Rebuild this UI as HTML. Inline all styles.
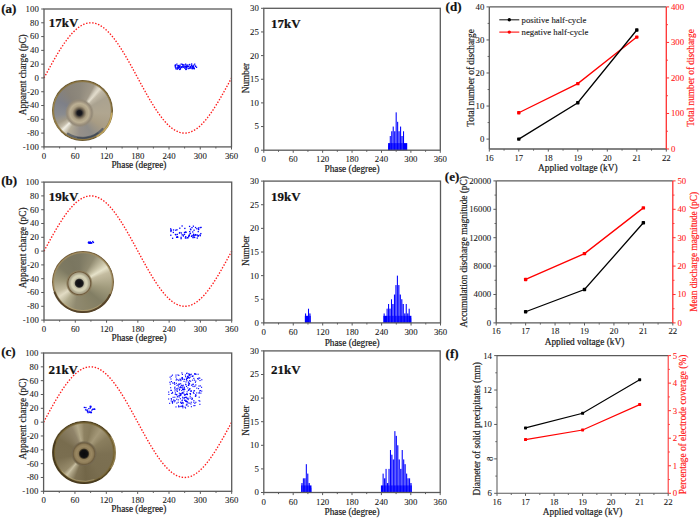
<!DOCTYPE html>
<html><head><meta charset="utf-8"><style>
html,body{margin:0;padding:0;background:#fff;}
body{width:700px;height:518px;overflow:hidden;}
svg{display:block;font-family:"Liberation Serif",serif;}
.disk{position:absolute;border-radius:50%;}
.ov{position:absolute;left:0;top:0;pointer-events:none;}
</style></head><body>
<svg width="700" height="518" viewBox="0 0 700 518">
<rect width="700" height="518" fill="#fff"/>
<defs>
<radialGradient id="da" cx="0.45" cy="0.52" r="0.55">
<stop offset="0" stop-color="#a89c80"/><stop offset="0.5" stop-color="#9f9886"/><stop offset="0.9" stop-color="#8c8a84"/><stop offset="1" stop-color="#a08a5a"/>
</radialGradient>
<radialGradient id="db" cx="0.45" cy="0.5" r="0.55">
<stop offset="0" stop-color="#b0a888"/><stop offset="0.6" stop-color="#a49c7c"/><stop offset="0.92" stop-color="#8e8666"/><stop offset="1" stop-color="#8a7650"/>
</radialGradient>
<radialGradient id="dc" cx="0.5" cy="0.5" r="0.55">
<stop offset="0" stop-color="#938664"/><stop offset="0.6" stop-color="#8b7f5c"/><stop offset="0.93" stop-color="#7a6e4c"/><stop offset="1" stop-color="#6a5a34"/>
</radialGradient>
</defs>
<polyline points="44.00,77.95 44.52,76.99 45.04,76.02 45.56,75.06 46.08,74.10 46.60,73.14 47.12,72.18 47.65,71.23 48.17,70.27 48.69,69.32 49.21,68.37 49.73,67.42 50.25,66.48 50.77,65.54 51.29,64.61 51.81,63.67 52.33,62.75 52.85,61.82 53.38,60.90 53.90,59.99 54.42,59.08 54.94,58.18 55.46,57.29 55.98,56.40 56.50,55.51 57.02,54.64 57.54,53.77 58.06,52.91 58.58,52.05 59.10,51.21 59.62,50.37 60.15,49.54 60.67,48.72 61.19,47.91 61.71,47.10 62.23,46.31 62.75,45.53 63.27,44.75 63.79,43.99 64.31,43.24 64.83,42.49 65.35,41.76 65.88,41.04 66.40,40.33 66.92,39.63 67.44,38.95 67.96,38.27 68.48,37.61 69.00,36.96 69.52,36.32 70.04,35.69 70.56,35.08 71.08,34.48 71.60,33.90 72.12,33.32 72.65,32.77 73.17,32.22 73.69,31.69 74.21,31.17 74.73,30.67 75.25,30.18 75.77,29.71 76.29,29.25 76.81,28.80 77.33,28.37 77.85,27.96 78.38,27.56 78.90,27.17 79.42,26.81 79.94,26.45 80.46,26.12 80.98,25.80 81.50,25.49 82.02,25.20 82.54,24.93 83.06,24.67 83.58,24.43 84.10,24.20 84.62,24.00 85.15,23.80 85.67,23.63 86.19,23.47 86.71,23.33 87.23,23.20 87.75,23.09 88.27,23.00 88.79,22.92 89.31,22.87 89.83,22.82 90.35,22.80 90.88,22.79 91.40,22.80 91.92,22.82 92.44,22.87 92.96,22.92 93.48,23.00 94.00,23.09 94.52,23.20 95.04,23.33 95.56,23.47 96.08,23.63 96.60,23.80 97.12,24.00 97.65,24.20 98.17,24.43 98.69,24.67 99.21,24.93 99.73,25.20 100.25,25.49 100.77,25.80 101.29,26.12 101.81,26.45 102.33,26.81 102.85,27.17 103.38,27.56 103.90,27.96 104.42,28.37 104.94,28.80 105.46,29.25 105.98,29.71 106.50,30.18 107.02,30.67 107.54,31.17 108.06,31.69 108.58,32.22 109.10,32.77 109.62,33.32 110.15,33.90 110.67,34.48 111.19,35.08 111.71,35.69 112.23,36.32 112.75,36.96 113.27,37.61 113.79,38.27 114.31,38.95 114.83,39.63 115.35,40.33 115.88,41.04 116.40,41.76 116.92,42.49 117.44,43.24 117.96,43.99 118.48,44.75 119.00,45.53 119.52,46.31 120.04,47.10 120.56,47.91 121.08,48.72 121.60,49.54 122.12,50.37 122.65,51.21 123.17,52.05 123.69,52.91 124.21,53.77 124.73,54.64 125.25,55.51 125.77,56.40 126.29,57.29 126.81,58.18 127.33,59.08 127.85,59.99 128.38,60.90 128.90,61.82 129.42,62.75 129.94,63.67 130.46,64.61 130.98,65.54 131.50,66.48 132.02,67.42 132.54,68.37 133.06,69.32 133.58,70.27 134.10,71.23 134.62,72.18 135.15,73.14 135.67,74.10 136.19,75.06 136.71,76.02 137.23,76.99 137.75,77.95 138.27,78.91 138.79,79.88 139.31,80.84 139.83,81.80 140.35,82.76 140.88,83.72 141.40,84.67 141.92,85.63 142.44,86.58 142.96,87.53 143.48,88.48 144.00,89.42 144.52,90.36 145.04,91.29 145.56,92.23 146.08,93.15 146.60,94.08 147.12,95.00 147.65,95.91 148.17,96.82 148.69,97.72 149.21,98.61 149.73,99.50 150.25,100.39 150.77,101.26 151.29,102.13 151.81,102.99 152.33,103.85 152.85,104.69 153.38,105.53 153.90,106.36 154.42,107.18 154.94,107.99 155.46,108.80 155.98,109.59 156.50,110.37 157.02,111.15 157.54,111.91 158.06,112.66 158.58,113.41 159.10,114.14 159.62,114.86 160.15,115.57 160.67,116.27 161.19,116.95 161.71,117.63 162.23,118.29 162.75,118.94 163.27,119.58 163.79,120.21 164.31,120.82 164.83,121.42 165.35,122.00 165.88,122.58 166.40,123.13 166.92,123.68 167.44,124.21 167.96,124.73 168.48,125.23 169.00,125.72 169.52,126.19 170.04,126.65 170.56,127.10 171.08,127.53 171.60,127.94 172.12,128.34 172.65,128.73 173.17,129.09 173.69,129.45 174.21,129.78 174.73,130.10 175.25,130.41 175.77,130.70 176.29,130.97 176.81,131.23 177.33,131.47 177.85,131.70 178.38,131.90 178.90,132.10 179.42,132.27 179.94,132.43 180.46,132.57 180.98,132.70 181.50,132.81 182.02,132.90 182.54,132.98 183.06,133.03 183.58,133.08 184.10,133.10 184.62,133.11 185.15,133.10 185.67,133.08 186.19,133.03 186.71,132.98 187.23,132.90 187.75,132.81 188.27,132.70 188.79,132.57 189.31,132.43 189.83,132.27 190.35,132.10 190.88,131.90 191.40,131.70 191.92,131.47 192.44,131.23 192.96,130.97 193.48,130.70 194.00,130.41 194.52,130.10 195.04,129.78 195.56,129.45 196.08,129.09 196.60,128.73 197.12,128.34 197.65,127.94 198.17,127.53 198.69,127.10 199.21,126.65 199.73,126.19 200.25,125.72 200.77,125.23 201.29,124.73 201.81,124.21 202.33,123.68 202.85,123.13 203.38,122.58 203.90,122.00 204.42,121.42 204.94,120.82 205.46,120.21 205.98,119.58 206.50,118.94 207.02,118.29 207.54,117.63 208.06,116.95 208.58,116.27 209.10,115.57 209.62,114.86 210.15,114.14 210.67,113.41 211.19,112.66 211.71,111.91 212.23,111.15 212.75,110.37 213.27,109.59 213.79,108.80 214.31,107.99 214.83,107.18 215.35,106.36 215.88,105.53 216.40,104.69 216.92,103.85 217.44,102.99 217.96,102.13 218.48,101.26 219.00,100.39 219.52,99.50 220.04,98.61 220.56,97.72 221.08,96.82 221.60,95.91 222.12,95.00 222.65,94.08 223.17,93.15 223.69,92.23 224.21,91.29 224.73,90.36 225.25,89.42 225.77,88.48 226.29,87.53 226.81,86.58 227.33,85.63 227.85,84.67 228.38,83.72 228.90,82.76 229.42,81.80 229.94,80.84 230.46,79.88 230.98,78.91 231.50,77.95" fill="none" stroke="#ff1a1a" stroke-width="1.35" stroke-dasharray="1.45 1.6"/>
<rect x="177.12" y="68.10" width="1.3" height="1.3" fill="#0000ff"/>
<rect x="191.03" y="64.78" width="1.3" height="1.3" fill="#0000ff"/>
<rect x="185.10" y="65.87" width="1.3" height="1.3" fill="#0000ff"/>
<rect x="188.55" y="67.77" width="1.3" height="1.3" fill="#0000ff"/>
<rect x="176.22" y="63.51" width="1.3" height="1.3" fill="#0000ff"/>
<rect x="192.62" y="65.77" width="1.3" height="1.3" fill="#0000ff"/>
<rect x="191.00" y="63.36" width="1.3" height="1.3" fill="#0000ff"/>
<rect x="183.99" y="67.39" width="1.3" height="1.3" fill="#0000ff"/>
<rect x="179.21" y="68.64" width="1.3" height="1.3" fill="#0000ff"/>
<rect x="194.07" y="63.52" width="1.3" height="1.3" fill="#0000ff"/>
<rect x="174.71" y="66.38" width="1.3" height="1.3" fill="#0000ff"/>
<rect x="194.91" y="65.48" width="1.3" height="1.3" fill="#0000ff"/>
<rect x="178.94" y="65.71" width="1.3" height="1.3" fill="#0000ff"/>
<rect x="174.79" y="64.59" width="1.3" height="1.3" fill="#0000ff"/>
<rect x="183.83" y="66.13" width="1.3" height="1.3" fill="#0000ff"/>
<rect x="179.30" y="64.64" width="1.3" height="1.3" fill="#0000ff"/>
<rect x="178.99" y="65.92" width="1.3" height="1.3" fill="#0000ff"/>
<rect x="180.55" y="63.47" width="1.3" height="1.3" fill="#0000ff"/>
<rect x="192.66" y="66.47" width="1.3" height="1.3" fill="#0000ff"/>
<rect x="188.34" y="64.39" width="1.3" height="1.3" fill="#0000ff"/>
<rect x="176.82" y="65.21" width="1.3" height="1.3" fill="#0000ff"/>
<rect x="190.09" y="67.33" width="1.3" height="1.3" fill="#0000ff"/>
<rect x="194.85" y="65.71" width="1.3" height="1.3" fill="#0000ff"/>
<rect x="192.49" y="67.10" width="1.3" height="1.3" fill="#0000ff"/>
<rect x="180.85" y="66.64" width="1.3" height="1.3" fill="#0000ff"/>
<rect x="193.65" y="68.09" width="1.3" height="1.3" fill="#0000ff"/>
<rect x="185.32" y="66.65" width="1.3" height="1.3" fill="#0000ff"/>
<rect x="174.91" y="64.71" width="1.3" height="1.3" fill="#0000ff"/>
<rect x="191.77" y="65.67" width="1.3" height="1.3" fill="#0000ff"/>
<rect x="177.97" y="66.42" width="1.3" height="1.3" fill="#0000ff"/>
<rect x="189.69" y="67.13" width="1.3" height="1.3" fill="#0000ff"/>
<rect x="182.43" y="65.81" width="1.3" height="1.3" fill="#0000ff"/>
<rect x="185.39" y="67.71" width="1.3" height="1.3" fill="#0000ff"/>
<rect x="185.66" y="65.55" width="1.3" height="1.3" fill="#0000ff"/>
<rect x="184.97" y="63.52" width="1.3" height="1.3" fill="#0000ff"/>
<rect x="175.11" y="67.29" width="1.3" height="1.3" fill="#0000ff"/>
<rect x="195.88" y="66.67" width="1.3" height="1.3" fill="#0000ff"/>
<rect x="182.85" y="64.30" width="1.3" height="1.3" fill="#0000ff"/>
<rect x="185.25" y="68.85" width="1.3" height="1.3" fill="#0000ff"/>
<rect x="191.18" y="66.37" width="1.3" height="1.3" fill="#0000ff"/>
<rect x="193.16" y="64.65" width="1.3" height="1.3" fill="#0000ff"/>
<rect x="185.50" y="68.68" width="1.3" height="1.3" fill="#0000ff"/>
<rect x="186.92" y="65.92" width="1.3" height="1.3" fill="#0000ff"/>
<rect x="180.10" y="66.42" width="1.3" height="1.3" fill="#0000ff"/>
<rect x="191.47" y="67.94" width="1.3" height="1.3" fill="#0000ff"/>
<rect x="193.73" y="67.50" width="1.3" height="1.3" fill="#0000ff"/>
<rect x="192.03" y="66.25" width="1.3" height="1.3" fill="#0000ff"/>
<rect x="186.56" y="65.74" width="1.3" height="1.3" fill="#0000ff"/>
<rect x="175.39" y="68.22" width="1.3" height="1.3" fill="#0000ff"/>
<rect x="186.75" y="64.47" width="1.3" height="1.3" fill="#0000ff"/>
<rect x="185.30" y="66.07" width="1.3" height="1.3" fill="#0000ff"/>
<rect x="182.04" y="65.29" width="1.3" height="1.3" fill="#0000ff"/>
<rect x="186.05" y="66.84" width="1.3" height="1.3" fill="#0000ff"/>
<rect x="187.69" y="65.92" width="1.3" height="1.3" fill="#0000ff"/>
<rect x="174.77" y="64.64" width="1.3" height="1.3" fill="#0000ff"/>
<rect x="178.07" y="66.62" width="1.3" height="1.3" fill="#0000ff"/>
<rect x="193.18" y="67.82" width="1.3" height="1.3" fill="#0000ff"/>
<rect x="191.77" y="67.92" width="1.3" height="1.3" fill="#0000ff"/>
<rect x="179.79" y="68.06" width="1.3" height="1.3" fill="#0000ff"/>
<rect x="189.03" y="63.82" width="1.3" height="1.3" fill="#0000ff"/>
<rect x="190.85" y="64.75" width="1.3" height="1.3" fill="#0000ff"/>
<rect x="176.57" y="66.85" width="1.3" height="1.3" fill="#0000ff"/>
<rect x="181.76" y="63.74" width="1.3" height="1.3" fill="#0000ff"/>
<rect x="177.68" y="66.30" width="1.3" height="1.3" fill="#0000ff"/>
<rect x="177.87" y="64.88" width="1.3" height="1.3" fill="#0000ff"/>
<rect x="189.88" y="65.90" width="1.3" height="1.3" fill="#0000ff"/>
<rect x="181.27" y="66.00" width="1.3" height="1.3" fill="#0000ff"/>
<rect x="174.67" y="65.51" width="1.3" height="1.3" fill="#0000ff"/>
<rect x="183.45" y="64.40" width="1.3" height="1.3" fill="#0000ff"/>
<rect x="176.55" y="68.39" width="1.3" height="1.3" fill="#0000ff"/>
<rect x="185.42" y="64.52" width="1.3" height="1.3" fill="#0000ff"/>
<rect x="187.53" y="67.93" width="1.3" height="1.3" fill="#0000ff"/>
<rect x="177.39" y="67.38" width="1.3" height="1.3" fill="#0000ff"/>
<rect x="177.69" y="67.30" width="1.3" height="1.3" fill="#0000ff"/>
<rect x="189.14" y="66.40" width="1.3" height="1.3" fill="#0000ff"/>
<rect x="179.03" y="68.81" width="1.3" height="1.3" fill="#0000ff"/>
<rect x="191.78" y="66.24" width="1.3" height="1.3" fill="#0000ff"/>
<rect x="179.08" y="66.98" width="1.3" height="1.3" fill="#0000ff"/>
<rect x="182.88" y="66.57" width="1.3" height="1.3" fill="#0000ff"/>
<rect x="181.25" y="66.88" width="1.3" height="1.3" fill="#0000ff"/>
<rect x="44.0" y="9.0" width="187.50" height="137.90" fill="none" stroke="#5a5a5a" stroke-width="1.3"/>
<line x1="41.20" y1="146.90" x2="44.00" y2="146.90" stroke="#5a5a5a" stroke-width="1.0"/>
<text x="38.80" y="149.80" font-size="8.8" text-anchor="end" fill="#1a1a1a" stroke="#1a1a1a" stroke-width="0.08">-100</text>
<line x1="41.20" y1="133.11" x2="44.00" y2="133.11" stroke="#5a5a5a" stroke-width="1.0"/>
<text x="38.80" y="136.01" font-size="8.8" text-anchor="end" fill="#1a1a1a" stroke="#1a1a1a" stroke-width="0.08">-80</text>
<line x1="41.20" y1="119.32" x2="44.00" y2="119.32" stroke="#5a5a5a" stroke-width="1.0"/>
<text x="38.80" y="122.22" font-size="8.8" text-anchor="end" fill="#1a1a1a" stroke="#1a1a1a" stroke-width="0.08">-60</text>
<line x1="41.20" y1="105.53" x2="44.00" y2="105.53" stroke="#5a5a5a" stroke-width="1.0"/>
<text x="38.80" y="108.43" font-size="8.8" text-anchor="end" fill="#1a1a1a" stroke="#1a1a1a" stroke-width="0.08">-40</text>
<line x1="41.20" y1="91.74" x2="44.00" y2="91.74" stroke="#5a5a5a" stroke-width="1.0"/>
<text x="38.80" y="94.64" font-size="8.8" text-anchor="end" fill="#1a1a1a" stroke="#1a1a1a" stroke-width="0.08">-20</text>
<line x1="41.20" y1="77.95" x2="44.00" y2="77.95" stroke="#5a5a5a" stroke-width="1.0"/>
<text x="38.80" y="80.85" font-size="8.8" text-anchor="end" fill="#1a1a1a" stroke="#1a1a1a" stroke-width="0.08">0</text>
<line x1="41.20" y1="64.16" x2="44.00" y2="64.16" stroke="#5a5a5a" stroke-width="1.0"/>
<text x="38.80" y="67.06" font-size="8.8" text-anchor="end" fill="#1a1a1a" stroke="#1a1a1a" stroke-width="0.08">20</text>
<line x1="41.20" y1="50.37" x2="44.00" y2="50.37" stroke="#5a5a5a" stroke-width="1.0"/>
<text x="38.80" y="53.27" font-size="8.8" text-anchor="end" fill="#1a1a1a" stroke="#1a1a1a" stroke-width="0.08">40</text>
<line x1="41.20" y1="36.58" x2="44.00" y2="36.58" stroke="#5a5a5a" stroke-width="1.0"/>
<text x="38.80" y="39.48" font-size="8.8" text-anchor="end" fill="#1a1a1a" stroke="#1a1a1a" stroke-width="0.08">60</text>
<line x1="41.20" y1="22.79" x2="44.00" y2="22.79" stroke="#5a5a5a" stroke-width="1.0"/>
<text x="38.80" y="25.69" font-size="8.8" text-anchor="end" fill="#1a1a1a" stroke="#1a1a1a" stroke-width="0.08">80</text>
<line x1="41.20" y1="9.00" x2="44.00" y2="9.00" stroke="#5a5a5a" stroke-width="1.0"/>
<text x="38.80" y="11.90" font-size="8.8" text-anchor="end" fill="#1a1a1a" stroke="#1a1a1a" stroke-width="0.08">100</text>
<line x1="44.00" y1="146.90" x2="44.00" y2="149.50" stroke="#5a5a5a" stroke-width="1.0"/>
<text x="44.00" y="158.90" font-size="8.8" text-anchor="middle" fill="#1a1a1a" stroke="#1a1a1a" stroke-width="0.08">0</text>
<line x1="59.62" y1="146.90" x2="59.62" y2="148.50" stroke="#5a5a5a" stroke-width="1.0"/>
<line x1="75.25" y1="146.90" x2="75.25" y2="149.50" stroke="#5a5a5a" stroke-width="1.0"/>
<text x="75.25" y="158.90" font-size="8.8" text-anchor="middle" fill="#1a1a1a" stroke="#1a1a1a" stroke-width="0.08">60</text>
<line x1="90.88" y1="146.90" x2="90.88" y2="148.50" stroke="#5a5a5a" stroke-width="1.0"/>
<line x1="106.50" y1="146.90" x2="106.50" y2="149.50" stroke="#5a5a5a" stroke-width="1.0"/>
<text x="106.50" y="158.90" font-size="8.8" text-anchor="middle" fill="#1a1a1a" stroke="#1a1a1a" stroke-width="0.08">120</text>
<line x1="122.12" y1="146.90" x2="122.12" y2="148.50" stroke="#5a5a5a" stroke-width="1.0"/>
<line x1="137.75" y1="146.90" x2="137.75" y2="149.50" stroke="#5a5a5a" stroke-width="1.0"/>
<text x="137.75" y="158.90" font-size="8.8" text-anchor="middle" fill="#1a1a1a" stroke="#1a1a1a" stroke-width="0.08">180</text>
<line x1="153.38" y1="146.90" x2="153.38" y2="148.50" stroke="#5a5a5a" stroke-width="1.0"/>
<line x1="169.00" y1="146.90" x2="169.00" y2="149.50" stroke="#5a5a5a" stroke-width="1.0"/>
<text x="169.00" y="158.90" font-size="8.8" text-anchor="middle" fill="#1a1a1a" stroke="#1a1a1a" stroke-width="0.08">240</text>
<line x1="184.62" y1="146.90" x2="184.62" y2="148.50" stroke="#5a5a5a" stroke-width="1.0"/>
<line x1="200.25" y1="146.90" x2="200.25" y2="149.50" stroke="#5a5a5a" stroke-width="1.0"/>
<text x="200.25" y="158.90" font-size="8.8" text-anchor="middle" fill="#1a1a1a" stroke="#1a1a1a" stroke-width="0.08">300</text>
<line x1="215.88" y1="146.90" x2="215.88" y2="148.50" stroke="#5a5a5a" stroke-width="1.0"/>
<line x1="231.50" y1="146.90" x2="231.50" y2="149.50" stroke="#5a5a5a" stroke-width="1.0"/>
<text x="231.50" y="158.90" font-size="8.8" text-anchor="middle" fill="#1a1a1a" stroke="#1a1a1a" stroke-width="0.08">360</text>
<text x="138.95" y="168.20" font-size="9.3" text-anchor="middle" fill="#1a1a1a" stroke="#1a1a1a" stroke-width="0.2">Phase (degree)</text>
<text x="26.10" y="74.75" font-size="9.3" text-anchor="middle" fill="#1a1a1a" stroke="#1a1a1a" stroke-width="0.2" transform="rotate(-90 26.10 74.75)">Apparent charge (pC)</text>
<text x="1.20" y="13.00" font-size="13" text-anchor="start" fill="#111" stroke="#111" stroke-width="0.2" font-weight="bold">(a)</text>
<text x="48.80" y="27.10" font-size="13" text-anchor="start" fill="#111" stroke="#111" stroke-width="0.2" font-weight="bold">17kV</text>
<polyline points="44.00,251.10 44.52,250.14 45.04,249.17 45.56,248.21 46.09,247.25 46.61,246.29 47.13,245.33 47.65,244.37 48.17,243.42 48.69,242.46 49.21,241.51 49.74,240.57 50.26,239.62 50.78,238.68 51.30,237.75 51.82,236.81 52.34,235.88 52.86,234.96 53.38,234.04 53.91,233.13 54.43,232.22 54.95,231.32 55.47,230.42 55.99,229.53 56.51,228.65 57.03,227.77 57.56,226.90 58.08,226.04 58.60,225.19 59.12,224.34 59.64,223.50 60.16,222.67 60.68,221.85 61.21,221.04 61.73,220.23 62.25,219.44 62.77,218.65 63.29,217.88 63.81,217.12 64.33,216.36 64.86,215.62 65.38,214.89 65.90,214.16 66.42,213.45 66.94,212.75 67.46,212.07 67.98,211.39 68.51,210.73 69.03,210.08 69.55,209.44 70.07,208.81 70.59,208.20 71.11,207.60 71.63,207.02 72.16,206.44 72.68,205.88 73.20,205.34 73.72,204.81 74.24,204.29 74.76,203.78 75.28,203.30 75.80,202.82 76.33,202.36 76.85,201.92 77.37,201.49 77.89,201.07 78.41,200.67 78.93,200.29 79.45,199.92 79.98,199.57 80.50,199.23 81.02,198.91 81.54,198.60 82.06,198.31 82.58,198.04 83.10,197.78 83.63,197.54 84.15,197.31 84.67,197.11 85.19,196.91 85.71,196.74 86.23,196.58 86.75,196.44 87.28,196.31 87.80,196.20 88.32,196.11 88.84,196.03 89.36,195.98 89.88,195.93 90.40,195.91 90.92,195.90 91.45,195.91 91.97,195.93 92.49,195.98 93.01,196.03 93.53,196.11 94.05,196.20 94.57,196.31 95.10,196.44 95.62,196.58 96.14,196.74 96.66,196.91 97.18,197.11 97.70,197.31 98.22,197.54 98.75,197.78 99.27,198.04 99.79,198.31 100.31,198.60 100.83,198.91 101.35,199.23 101.87,199.57 102.40,199.92 102.92,200.29 103.44,200.67 103.96,201.07 104.48,201.49 105.00,201.92 105.52,202.36 106.05,202.82 106.57,203.30 107.09,203.78 107.61,204.29 108.13,204.81 108.65,205.34 109.17,205.88 109.69,206.44 110.22,207.02 110.74,207.60 111.26,208.20 111.78,208.81 112.30,209.44 112.82,210.08 113.34,210.73 113.87,211.39 114.39,212.07 114.91,212.75 115.43,213.45 115.95,214.16 116.47,214.89 116.99,215.62 117.52,216.36 118.04,217.12 118.56,217.88 119.08,218.65 119.60,219.44 120.12,220.23 120.64,221.04 121.17,221.85 121.69,222.67 122.21,223.50 122.73,224.34 123.25,225.19 123.77,226.04 124.29,226.90 124.82,227.77 125.34,228.65 125.86,229.53 126.38,230.42 126.90,231.32 127.42,232.22 127.94,233.13 128.47,234.04 128.99,234.96 129.51,235.88 130.03,236.81 130.55,237.75 131.07,238.68 131.59,239.62 132.11,240.57 132.64,241.51 133.16,242.46 133.68,243.42 134.20,244.37 134.72,245.33 135.24,246.29 135.76,247.25 136.29,248.21 136.81,249.17 137.33,250.14 137.85,251.10 138.37,252.06 138.89,253.03 139.41,253.99 139.94,254.95 140.46,255.91 140.98,256.87 141.50,257.83 142.02,258.78 142.54,259.74 143.06,260.69 143.59,261.63 144.11,262.58 144.63,263.52 145.15,264.45 145.67,265.39 146.19,266.32 146.71,267.24 147.24,268.16 147.76,269.07 148.28,269.98 148.80,270.88 149.32,271.78 149.84,272.67 150.36,273.55 150.88,274.43 151.41,275.30 151.93,276.16 152.45,277.01 152.97,277.86 153.49,278.70 154.01,279.53 154.53,280.35 155.06,281.16 155.58,281.97 156.10,282.76 156.62,283.55 157.14,284.32 157.66,285.08 158.18,285.84 158.71,286.58 159.23,287.31 159.75,288.04 160.27,288.75 160.79,289.45 161.31,290.13 161.83,290.81 162.36,291.47 162.88,292.12 163.40,292.76 163.92,293.39 164.44,294.00 164.96,294.60 165.48,295.18 166.00,295.76 166.53,296.32 167.05,296.86 167.57,297.39 168.09,297.91 168.61,298.42 169.13,298.90 169.65,299.38 170.18,299.84 170.70,300.28 171.22,300.71 171.74,301.13 172.26,301.53 172.78,301.91 173.30,302.28 173.83,302.63 174.35,302.97 174.87,303.29 175.39,303.60 175.91,303.89 176.43,304.16 176.95,304.42 177.48,304.66 178.00,304.89 178.52,305.09 179.04,305.29 179.56,305.46 180.08,305.62 180.60,305.76 181.13,305.89 181.65,306.00 182.17,306.09 182.69,306.17 183.21,306.22 183.73,306.27 184.25,306.29 184.77,306.30 185.30,306.29 185.82,306.27 186.34,306.22 186.86,306.17 187.38,306.09 187.90,306.00 188.42,305.89 188.95,305.76 189.47,305.62 189.99,305.46 190.51,305.29 191.03,305.09 191.55,304.89 192.07,304.66 192.60,304.42 193.12,304.16 193.64,303.89 194.16,303.60 194.68,303.29 195.20,302.97 195.72,302.63 196.25,302.28 196.77,301.91 197.29,301.53 197.81,301.13 198.33,300.71 198.85,300.28 199.37,299.84 199.90,299.38 200.42,298.90 200.94,298.42 201.46,297.91 201.98,297.39 202.50,296.86 203.02,296.32 203.54,295.76 204.07,295.18 204.59,294.60 205.11,294.00 205.63,293.39 206.15,292.76 206.67,292.12 207.19,291.47 207.72,290.81 208.24,290.13 208.76,289.45 209.28,288.75 209.80,288.04 210.32,287.31 210.84,286.58 211.37,285.84 211.89,285.08 212.41,284.32 212.93,283.55 213.45,282.76 213.97,281.97 214.49,281.16 215.02,280.35 215.54,279.53 216.06,278.70 216.58,277.86 217.10,277.01 217.62,276.16 218.14,275.30 218.67,274.43 219.19,273.55 219.71,272.67 220.23,271.78 220.75,270.88 221.27,269.98 221.79,269.07 222.31,268.16 222.84,267.24 223.36,266.32 223.88,265.39 224.40,264.45 224.92,263.52 225.44,262.58 225.96,261.63 226.49,260.69 227.01,259.74 227.53,258.78 228.05,257.83 228.57,256.87 229.09,255.91 229.61,254.95 230.14,253.99 230.66,253.03 231.18,252.06 231.70,251.10" fill="none" stroke="#ff1a1a" stroke-width="1.35" stroke-dasharray="1.45 1.6"/>
<rect x="91.17" y="242.29" width="1.3" height="1.3" fill="#0000ff"/>
<rect x="92.08" y="240.85" width="1.3" height="1.3" fill="#0000ff"/>
<rect x="89.49" y="241.45" width="1.3" height="1.3" fill="#0000ff"/>
<rect x="88.13" y="241.37" width="1.3" height="1.3" fill="#0000ff"/>
<rect x="89.29" y="241.88" width="1.3" height="1.3" fill="#0000ff"/>
<rect x="88.47" y="242.54" width="1.3" height="1.3" fill="#0000ff"/>
<rect x="92.81" y="241.79" width="1.3" height="1.3" fill="#0000ff"/>
<rect x="88.81" y="242.40" width="1.3" height="1.3" fill="#0000ff"/>
<rect x="90.83" y="242.20" width="1.3" height="1.3" fill="#0000ff"/>
<rect x="88.58" y="242.33" width="1.3" height="1.3" fill="#0000ff"/>
<rect x="87.73" y="241.96" width="1.3" height="1.3" fill="#0000ff"/>
<rect x="90.39" y="242.35" width="1.3" height="1.3" fill="#0000ff"/>
<rect x="89.84" y="242.60" width="1.3" height="1.3" fill="#0000ff"/>
<rect x="89.75" y="241.63" width="1.3" height="1.3" fill="#0000ff"/>
<rect x="197.41" y="235.51" width="1.3" height="1.3" fill="#0000ff"/>
<rect x="192.41" y="236.99" width="1.3" height="1.3" fill="#0000ff"/>
<rect x="193.30" y="235.41" width="1.3" height="1.3" fill="#0000ff"/>
<rect x="180.46" y="237.99" width="1.3" height="1.3" fill="#0000ff"/>
<rect x="199.55" y="226.93" width="1.3" height="1.3" fill="#0000ff"/>
<rect x="193.03" y="234.40" width="1.3" height="1.3" fill="#0000ff"/>
<rect x="183.84" y="231.91" width="1.3" height="1.3" fill="#0000ff"/>
<rect x="184.74" y="237.24" width="1.3" height="1.3" fill="#0000ff"/>
<rect x="185.08" y="235.98" width="1.3" height="1.3" fill="#0000ff"/>
<rect x="180.46" y="236.67" width="1.3" height="1.3" fill="#0000ff"/>
<rect x="197.60" y="230.97" width="1.3" height="1.3" fill="#0000ff"/>
<rect x="187.18" y="237.17" width="1.3" height="1.3" fill="#0000ff"/>
<rect x="192.08" y="231.32" width="1.3" height="1.3" fill="#0000ff"/>
<rect x="176.31" y="229.13" width="1.3" height="1.3" fill="#0000ff"/>
<rect x="191.32" y="226.99" width="1.3" height="1.3" fill="#0000ff"/>
<rect x="197.86" y="228.37" width="1.3" height="1.3" fill="#0000ff"/>
<rect x="197.97" y="228.93" width="1.3" height="1.3" fill="#0000ff"/>
<rect x="199.41" y="234.28" width="1.3" height="1.3" fill="#0000ff"/>
<rect x="185.18" y="231.74" width="1.3" height="1.3" fill="#0000ff"/>
<rect x="189.80" y="232.69" width="1.3" height="1.3" fill="#0000ff"/>
<rect x="179.14" y="227.56" width="1.3" height="1.3" fill="#0000ff"/>
<rect x="185.42" y="237.36" width="1.3" height="1.3" fill="#0000ff"/>
<rect x="188.92" y="225.77" width="1.3" height="1.3" fill="#0000ff"/>
<rect x="195.11" y="234.55" width="1.3" height="1.3" fill="#0000ff"/>
<rect x="197.85" y="227.33" width="1.3" height="1.3" fill="#0000ff"/>
<rect x="192.74" y="225.54" width="1.3" height="1.3" fill="#0000ff"/>
<rect x="189.85" y="228.44" width="1.3" height="1.3" fill="#0000ff"/>
<rect x="176.47" y="236.57" width="1.3" height="1.3" fill="#0000ff"/>
<rect x="172.69" y="231.80" width="1.3" height="1.3" fill="#0000ff"/>
<rect x="196.16" y="228.06" width="1.3" height="1.3" fill="#0000ff"/>
<rect x="175.96" y="236.64" width="1.3" height="1.3" fill="#0000ff"/>
<rect x="182.63" y="234.43" width="1.3" height="1.3" fill="#0000ff"/>
<rect x="170.35" y="229.64" width="1.3" height="1.3" fill="#0000ff"/>
<rect x="174.75" y="233.83" width="1.3" height="1.3" fill="#0000ff"/>
<rect x="171.95" y="237.64" width="1.3" height="1.3" fill="#0000ff"/>
<rect x="170.15" y="234.60" width="1.3" height="1.3" fill="#0000ff"/>
<rect x="170.01" y="228.20" width="1.3" height="1.3" fill="#0000ff"/>
<rect x="194.89" y="226.87" width="1.3" height="1.3" fill="#0000ff"/>
<rect x="175.12" y="234.09" width="1.3" height="1.3" fill="#0000ff"/>
<rect x="181.46" y="225.33" width="1.3" height="1.3" fill="#0000ff"/>
<rect x="200.44" y="226.79" width="1.3" height="1.3" fill="#0000ff"/>
<rect x="170.49" y="229.40" width="1.3" height="1.3" fill="#0000ff"/>
<rect x="188.67" y="234.77" width="1.3" height="1.3" fill="#0000ff"/>
<rect x="172.90" y="229.30" width="1.3" height="1.3" fill="#0000ff"/>
<rect x="170.32" y="230.81" width="1.3" height="1.3" fill="#0000ff"/>
<rect x="193.40" y="234.74" width="1.3" height="1.3" fill="#0000ff"/>
<rect x="197.67" y="234.95" width="1.3" height="1.3" fill="#0000ff"/>
<rect x="196.43" y="234.27" width="1.3" height="1.3" fill="#0000ff"/>
<rect x="184.20" y="227.79" width="1.3" height="1.3" fill="#0000ff"/>
<rect x="190.10" y="229.02" width="1.3" height="1.3" fill="#0000ff"/>
<rect x="194.03" y="236.81" width="1.3" height="1.3" fill="#0000ff"/>
<rect x="189.59" y="232.95" width="1.3" height="1.3" fill="#0000ff"/>
<rect x="178.79" y="232.43" width="1.3" height="1.3" fill="#0000ff"/>
<rect x="181.47" y="234.15" width="1.3" height="1.3" fill="#0000ff"/>
<rect x="192.94" y="233.62" width="1.3" height="1.3" fill="#0000ff"/>
<rect x="179.14" y="231.91" width="1.3" height="1.3" fill="#0000ff"/>
<rect x="197.51" y="234.90" width="1.3" height="1.3" fill="#0000ff"/>
<rect x="188.26" y="235.35" width="1.3" height="1.3" fill="#0000ff"/>
<rect x="191.45" y="234.82" width="1.3" height="1.3" fill="#0000ff"/>
<rect x="196.64" y="237.39" width="1.3" height="1.3" fill="#0000ff"/>
<rect x="175.13" y="229.58" width="1.3" height="1.3" fill="#0000ff"/>
<rect x="184.65" y="231.53" width="1.3" height="1.3" fill="#0000ff"/>
<rect x="176.84" y="236.50" width="1.3" height="1.3" fill="#0000ff"/>
<rect x="188.71" y="234.38" width="1.3" height="1.3" fill="#0000ff"/>
<rect x="182.76" y="235.35" width="1.3" height="1.3" fill="#0000ff"/>
<rect x="185.28" y="231.58" width="1.3" height="1.3" fill="#0000ff"/>
<rect x="190.86" y="235.75" width="1.3" height="1.3" fill="#0000ff"/>
<rect x="187.06" y="236.98" width="1.3" height="1.3" fill="#0000ff"/>
<rect x="176.61" y="233.80" width="1.3" height="1.3" fill="#0000ff"/>
<rect x="200.18" y="232.95" width="1.3" height="1.3" fill="#0000ff"/>
<rect x="176.72" y="236.18" width="1.3" height="1.3" fill="#0000ff"/>
<rect x="183.86" y="233.75" width="1.3" height="1.3" fill="#0000ff"/>
<rect x="177.01" y="236.62" width="1.3" height="1.3" fill="#0000ff"/>
<rect x="187.98" y="235.87" width="1.3" height="1.3" fill="#0000ff"/>
<rect x="189.08" y="230.94" width="1.3" height="1.3" fill="#0000ff"/>
<rect x="180.76" y="232.35" width="1.3" height="1.3" fill="#0000ff"/>
<rect x="194.79" y="233.97" width="1.3" height="1.3" fill="#0000ff"/>
<rect x="199.62" y="235.04" width="1.3" height="1.3" fill="#0000ff"/>
<rect x="192.40" y="236.27" width="1.3" height="1.3" fill="#0000ff"/>
<rect x="193.43" y="229.59" width="1.3" height="1.3" fill="#0000ff"/>
<rect x="44.0" y="182.1" width="187.70" height="138.00" fill="none" stroke="#5a5a5a" stroke-width="1.3"/>
<line x1="41.20" y1="320.10" x2="44.00" y2="320.10" stroke="#5a5a5a" stroke-width="1.0"/>
<text x="38.80" y="323.00" font-size="8.8" text-anchor="end" fill="#1a1a1a" stroke="#1a1a1a" stroke-width="0.08">-100</text>
<line x1="41.20" y1="306.30" x2="44.00" y2="306.30" stroke="#5a5a5a" stroke-width="1.0"/>
<text x="38.80" y="309.20" font-size="8.8" text-anchor="end" fill="#1a1a1a" stroke="#1a1a1a" stroke-width="0.08">-80</text>
<line x1="41.20" y1="292.50" x2="44.00" y2="292.50" stroke="#5a5a5a" stroke-width="1.0"/>
<text x="38.80" y="295.40" font-size="8.8" text-anchor="end" fill="#1a1a1a" stroke="#1a1a1a" stroke-width="0.08">-60</text>
<line x1="41.20" y1="278.70" x2="44.00" y2="278.70" stroke="#5a5a5a" stroke-width="1.0"/>
<text x="38.80" y="281.60" font-size="8.8" text-anchor="end" fill="#1a1a1a" stroke="#1a1a1a" stroke-width="0.08">-40</text>
<line x1="41.20" y1="264.90" x2="44.00" y2="264.90" stroke="#5a5a5a" stroke-width="1.0"/>
<text x="38.80" y="267.80" font-size="8.8" text-anchor="end" fill="#1a1a1a" stroke="#1a1a1a" stroke-width="0.08">-20</text>
<line x1="41.20" y1="251.10" x2="44.00" y2="251.10" stroke="#5a5a5a" stroke-width="1.0"/>
<text x="38.80" y="254.00" font-size="8.8" text-anchor="end" fill="#1a1a1a" stroke="#1a1a1a" stroke-width="0.08">0</text>
<line x1="41.20" y1="237.30" x2="44.00" y2="237.30" stroke="#5a5a5a" stroke-width="1.0"/>
<text x="38.80" y="240.20" font-size="8.8" text-anchor="end" fill="#1a1a1a" stroke="#1a1a1a" stroke-width="0.08">20</text>
<line x1="41.20" y1="223.50" x2="44.00" y2="223.50" stroke="#5a5a5a" stroke-width="1.0"/>
<text x="38.80" y="226.40" font-size="8.8" text-anchor="end" fill="#1a1a1a" stroke="#1a1a1a" stroke-width="0.08">40</text>
<line x1="41.20" y1="209.70" x2="44.00" y2="209.70" stroke="#5a5a5a" stroke-width="1.0"/>
<text x="38.80" y="212.60" font-size="8.8" text-anchor="end" fill="#1a1a1a" stroke="#1a1a1a" stroke-width="0.08">60</text>
<line x1="41.20" y1="195.90" x2="44.00" y2="195.90" stroke="#5a5a5a" stroke-width="1.0"/>
<text x="38.80" y="198.80" font-size="8.8" text-anchor="end" fill="#1a1a1a" stroke="#1a1a1a" stroke-width="0.08">80</text>
<line x1="41.20" y1="182.10" x2="44.00" y2="182.10" stroke="#5a5a5a" stroke-width="1.0"/>
<text x="38.80" y="185.00" font-size="8.8" text-anchor="end" fill="#1a1a1a" stroke="#1a1a1a" stroke-width="0.08">100</text>
<line x1="44.00" y1="320.10" x2="44.00" y2="322.70" stroke="#5a5a5a" stroke-width="1.0"/>
<text x="44.00" y="332.10" font-size="8.8" text-anchor="middle" fill="#1a1a1a" stroke="#1a1a1a" stroke-width="0.08">0</text>
<line x1="59.64" y1="320.10" x2="59.64" y2="321.70" stroke="#5a5a5a" stroke-width="1.0"/>
<line x1="75.28" y1="320.10" x2="75.28" y2="322.70" stroke="#5a5a5a" stroke-width="1.0"/>
<text x="75.28" y="332.10" font-size="8.8" text-anchor="middle" fill="#1a1a1a" stroke="#1a1a1a" stroke-width="0.08">60</text>
<line x1="90.92" y1="320.10" x2="90.92" y2="321.70" stroke="#5a5a5a" stroke-width="1.0"/>
<line x1="106.57" y1="320.10" x2="106.57" y2="322.70" stroke="#5a5a5a" stroke-width="1.0"/>
<text x="106.57" y="332.10" font-size="8.8" text-anchor="middle" fill="#1a1a1a" stroke="#1a1a1a" stroke-width="0.08">120</text>
<line x1="122.21" y1="320.10" x2="122.21" y2="321.70" stroke="#5a5a5a" stroke-width="1.0"/>
<line x1="137.85" y1="320.10" x2="137.85" y2="322.70" stroke="#5a5a5a" stroke-width="1.0"/>
<text x="137.85" y="332.10" font-size="8.8" text-anchor="middle" fill="#1a1a1a" stroke="#1a1a1a" stroke-width="0.08">180</text>
<line x1="153.49" y1="320.10" x2="153.49" y2="321.70" stroke="#5a5a5a" stroke-width="1.0"/>
<line x1="169.13" y1="320.10" x2="169.13" y2="322.70" stroke="#5a5a5a" stroke-width="1.0"/>
<text x="169.13" y="332.10" font-size="8.8" text-anchor="middle" fill="#1a1a1a" stroke="#1a1a1a" stroke-width="0.08">240</text>
<line x1="184.77" y1="320.10" x2="184.77" y2="321.70" stroke="#5a5a5a" stroke-width="1.0"/>
<line x1="200.42" y1="320.10" x2="200.42" y2="322.70" stroke="#5a5a5a" stroke-width="1.0"/>
<text x="200.42" y="332.10" font-size="8.8" text-anchor="middle" fill="#1a1a1a" stroke="#1a1a1a" stroke-width="0.08">300</text>
<line x1="216.06" y1="320.10" x2="216.06" y2="321.70" stroke="#5a5a5a" stroke-width="1.0"/>
<line x1="231.70" y1="320.10" x2="231.70" y2="322.70" stroke="#5a5a5a" stroke-width="1.0"/>
<text x="231.70" y="332.10" font-size="8.8" text-anchor="middle" fill="#1a1a1a" stroke="#1a1a1a" stroke-width="0.08">360</text>
<text x="139.05" y="341.30" font-size="9.3" text-anchor="middle" fill="#1a1a1a" stroke="#1a1a1a" stroke-width="0.2">Phase (degree)</text>
<text x="26.10" y="247.90" font-size="9.3" text-anchor="middle" fill="#1a1a1a" stroke="#1a1a1a" stroke-width="0.2" transform="rotate(-90 26.10 247.90)">Apparent charge (pC)</text>
<text x="1.20" y="185.10" font-size="13" text-anchor="start" fill="#111" stroke="#111" stroke-width="0.2" font-weight="bold">(b)</text>
<text x="48.80" y="200.90" font-size="13" text-anchor="start" fill="#111" stroke="#111" stroke-width="0.2" font-weight="bold">19kV</text>
<polyline points="43.60,422.15 44.12,421.18 44.65,420.22 45.17,419.25 45.69,418.29 46.21,417.33 46.73,416.37 47.26,415.41 47.78,414.45 48.30,413.50 48.83,412.54 49.35,411.59 49.87,410.65 50.39,409.71 50.91,408.77 51.44,407.83 51.96,406.90 52.48,405.98 53.01,405.06 53.53,404.14 54.05,403.23 54.57,402.33 55.09,401.43 55.62,400.53 56.14,399.65 56.66,398.77 57.19,397.90 57.71,397.04 58.23,396.18 58.75,395.33 59.27,394.49 59.80,393.66 60.32,392.83 60.84,392.02 61.37,391.22 61.89,390.42 62.41,389.63 62.93,388.86 63.45,388.09 63.98,387.34 64.50,386.59 65.02,385.86 65.55,385.13 66.07,384.42 66.59,383.72 67.11,383.03 67.63,382.36 68.16,381.69 68.68,381.04 69.20,380.40 69.72,379.77 70.25,379.16 70.77,378.56 71.29,377.97 71.81,377.40 72.34,376.83 72.86,376.29 73.38,375.75 73.91,375.24 74.43,374.73 74.95,374.24 75.47,373.77 76.00,373.31 76.52,372.86 77.04,372.43 77.56,372.01 78.09,371.61 78.61,371.23 79.13,370.86 79.65,370.50 80.18,370.17 80.70,369.84 81.22,369.54 81.74,369.25 82.27,368.97 82.79,368.71 83.31,368.47 83.83,368.25 84.36,368.04 84.88,367.85 85.40,367.67 85.92,367.51 86.44,367.37 86.97,367.24 87.49,367.13 88.01,367.04 88.53,366.96 89.06,366.91 89.58,366.86 90.10,366.84 90.62,366.83 91.15,366.84 91.67,366.86 92.19,366.91 92.72,366.96 93.24,367.04 93.76,367.13 94.28,367.24 94.80,367.37 95.33,367.51 95.85,367.67 96.37,367.85 96.89,368.04 97.42,368.25 97.94,368.47 98.46,368.71 98.98,368.97 99.51,369.25 100.03,369.54 100.55,369.84 101.08,370.17 101.60,370.50 102.12,370.86 102.64,371.23 103.16,371.61 103.69,372.01 104.21,372.43 104.73,372.86 105.25,373.31 105.78,373.77 106.30,374.24 106.82,374.73 107.34,375.24 107.87,375.75 108.39,376.29 108.91,376.83 109.44,377.40 109.96,377.97 110.48,378.56 111.00,379.16 111.53,379.77 112.05,380.40 112.57,381.04 113.09,381.69 113.62,382.36 114.14,383.03 114.66,383.72 115.18,384.42 115.71,385.13 116.23,385.86 116.75,386.59 117.27,387.34 117.79,388.09 118.32,388.86 118.84,389.63 119.36,390.42 119.88,391.22 120.41,392.02 120.93,392.83 121.45,393.66 121.97,394.49 122.50,395.33 123.02,396.18 123.54,397.04 124.06,397.90 124.59,398.77 125.11,399.65 125.63,400.53 126.16,401.43 126.68,402.33 127.20,403.23 127.72,404.14 128.25,405.06 128.77,405.98 129.29,406.90 129.81,407.83 130.34,408.77 130.86,409.71 131.38,410.65 131.90,411.59 132.42,412.54 132.95,413.50 133.47,414.45 133.99,415.41 134.51,416.37 135.04,417.33 135.56,418.29 136.08,419.25 136.60,420.22 137.13,421.18 137.65,422.15 138.17,423.12 138.69,424.08 139.22,425.05 139.74,426.01 140.26,426.97 140.78,427.93 141.31,428.89 141.83,429.85 142.35,430.80 142.88,431.76 143.40,432.71 143.92,433.65 144.44,434.59 144.97,435.53 145.49,436.47 146.01,437.40 146.53,438.32 147.06,439.24 147.58,440.16 148.10,441.07 148.62,441.97 149.15,442.87 149.67,443.77 150.19,444.65 150.71,445.53 151.23,446.40 151.76,447.26 152.28,448.12 152.80,448.97 153.33,449.81 153.85,450.64 154.37,451.47 154.89,452.28 155.41,453.08 155.94,453.88 156.46,454.67 156.98,455.44 157.50,456.21 158.03,456.96 158.55,457.71 159.07,458.44 159.59,459.17 160.12,459.88 160.64,460.58 161.16,461.27 161.69,461.94 162.21,462.61 162.73,463.26 163.25,463.90 163.77,464.53 164.30,465.14 164.82,465.74 165.34,466.33 165.87,466.90 166.39,467.47 166.91,468.01 167.43,468.55 167.95,469.06 168.48,469.57 169.00,470.06 169.52,470.53 170.05,470.99 170.57,471.44 171.09,471.87 171.61,472.29 172.13,472.69 172.66,473.07 173.18,473.44 173.70,473.80 174.22,474.13 174.75,474.46 175.27,474.76 175.79,475.05 176.31,475.33 176.84,475.59 177.36,475.83 177.88,476.05 178.41,476.26 178.93,476.45 179.45,476.63 179.97,476.79 180.49,476.93 181.02,477.06 181.54,477.17 182.06,477.26 182.59,477.34 183.11,477.39 183.63,477.44 184.15,477.46 184.67,477.47 185.20,477.46 185.72,477.44 186.24,477.39 186.76,477.34 187.29,477.26 187.81,477.17 188.33,477.06 188.85,476.93 189.38,476.79 189.90,476.63 190.42,476.45 190.94,476.26 191.47,476.05 191.99,475.83 192.51,475.59 193.03,475.33 193.56,475.05 194.08,474.76 194.60,474.46 195.12,474.13 195.65,473.80 196.17,473.44 196.69,473.07 197.21,472.69 197.74,472.29 198.26,471.87 198.78,471.44 199.30,470.99 199.83,470.53 200.35,470.06 200.87,469.57 201.39,469.06 201.92,468.55 202.44,468.01 202.96,467.47 203.48,466.90 204.01,466.33 204.53,465.74 205.05,465.14 205.57,464.53 206.10,463.90 206.62,463.26 207.14,462.61 207.66,461.94 208.19,461.27 208.71,460.58 209.23,459.88 209.75,459.17 210.28,458.44 210.80,457.71 211.32,456.96 211.84,456.21 212.37,455.44 212.89,454.67 213.41,453.88 213.94,453.08 214.46,452.28 214.98,451.47 215.50,450.64 216.02,449.81 216.55,448.97 217.07,448.12 217.59,447.26 218.12,446.40 218.64,445.53 219.16,444.65 219.68,443.77 220.20,442.87 220.73,441.97 221.25,441.07 221.77,440.16 222.29,439.24 222.82,438.32 223.34,437.40 223.86,436.47 224.38,435.53 224.91,434.59 225.43,433.65 225.95,432.71 226.47,431.76 227.00,430.80 227.52,429.85 228.04,428.89 228.56,427.93 229.09,426.97 229.61,426.01 230.13,425.05 230.66,424.08 231.18,423.12 231.70,422.15" fill="none" stroke="#ff1a1a" stroke-width="1.35" stroke-dasharray="1.45 1.6"/>
<rect x="84.93" y="409.17" width="1.3" height="1.3" fill="#0000ff"/>
<rect x="86.53" y="409.60" width="1.3" height="1.3" fill="#0000ff"/>
<rect x="89.62" y="405.72" width="1.3" height="1.3" fill="#0000ff"/>
<rect x="85.19" y="406.94" width="1.3" height="1.3" fill="#0000ff"/>
<rect x="94.10" y="408.64" width="1.3" height="1.3" fill="#0000ff"/>
<rect x="92.17" y="408.68" width="1.3" height="1.3" fill="#0000ff"/>
<rect x="89.78" y="406.33" width="1.3" height="1.3" fill="#0000ff"/>
<rect x="89.73" y="411.50" width="1.3" height="1.3" fill="#0000ff"/>
<rect x="88.38" y="410.59" width="1.3" height="1.3" fill="#0000ff"/>
<rect x="90.17" y="405.71" width="1.3" height="1.3" fill="#0000ff"/>
<rect x="91.22" y="409.51" width="1.3" height="1.3" fill="#0000ff"/>
<rect x="92.52" y="408.65" width="1.3" height="1.3" fill="#0000ff"/>
<rect x="90.75" y="411.58" width="1.3" height="1.3" fill="#0000ff"/>
<rect x="90.69" y="411.88" width="1.3" height="1.3" fill="#0000ff"/>
<rect x="86.83" y="411.02" width="1.3" height="1.3" fill="#0000ff"/>
<rect x="87.43" y="411.99" width="1.3" height="1.3" fill="#0000ff"/>
<rect x="83.70" y="406.81" width="1.3" height="1.3" fill="#0000ff"/>
<rect x="93.73" y="408.39" width="1.3" height="1.3" fill="#0000ff"/>
<rect x="89.63" y="407.42" width="1.3" height="1.3" fill="#0000ff"/>
<rect x="88.19" y="408.03" width="1.3" height="1.3" fill="#0000ff"/>
<rect x="86.30" y="409.46" width="1.3" height="1.3" fill="#0000ff"/>
<rect x="89.12" y="411.76" width="1.3" height="1.3" fill="#0000ff"/>
<rect x="90.30" y="411.94" width="1.3" height="1.3" fill="#0000ff"/>
<rect x="90.17" y="406.42" width="1.3" height="1.3" fill="#0000ff"/>
<rect x="198.68" y="392.24" width="1.1" height="1.1" fill="#0000ff"/>
<rect x="192.13" y="379.60" width="1.1" height="1.1" fill="#0000ff"/>
<rect x="196.17" y="392.40" width="1.1" height="1.1" fill="#0000ff"/>
<rect x="177.42" y="374.39" width="1.1" height="1.1" fill="#0000ff"/>
<rect x="170.69" y="400.41" width="1.1" height="1.1" fill="#0000ff"/>
<rect x="181.73" y="377.47" width="1.1" height="1.1" fill="#0000ff"/>
<rect x="177.73" y="399.29" width="1.1" height="1.1" fill="#0000ff"/>
<rect x="197.59" y="373.71" width="1.1" height="1.1" fill="#0000ff"/>
<rect x="188.73" y="373.74" width="1.1" height="1.1" fill="#0000ff"/>
<rect x="192.29" y="383.83" width="1.1" height="1.1" fill="#0000ff"/>
<rect x="184.99" y="407.40" width="1.1" height="1.1" fill="#0000ff"/>
<rect x="178.27" y="374.87" width="1.1" height="1.1" fill="#0000ff"/>
<rect x="188.22" y="373.26" width="1.1" height="1.1" fill="#0000ff"/>
<rect x="174.42" y="386.55" width="1.1" height="1.1" fill="#0000ff"/>
<rect x="188.59" y="377.66" width="1.1" height="1.1" fill="#0000ff"/>
<rect x="169.11" y="402.78" width="1.1" height="1.1" fill="#0000ff"/>
<rect x="178.41" y="405.99" width="1.1" height="1.1" fill="#0000ff"/>
<rect x="198.41" y="385.49" width="1.1" height="1.1" fill="#0000ff"/>
<rect x="183.44" y="390.51" width="1.1" height="1.1" fill="#0000ff"/>
<rect x="189.74" y="393.18" width="1.1" height="1.1" fill="#0000ff"/>
<rect x="186.83" y="394.04" width="1.1" height="1.1" fill="#0000ff"/>
<rect x="199.91" y="390.05" width="1.1" height="1.1" fill="#0000ff"/>
<rect x="182.44" y="397.58" width="1.1" height="1.1" fill="#0000ff"/>
<rect x="175.80" y="382.78" width="1.1" height="1.1" fill="#0000ff"/>
<rect x="201.19" y="390.55" width="1.1" height="1.1" fill="#0000ff"/>
<rect x="186.46" y="372.55" width="1.1" height="1.1" fill="#0000ff"/>
<rect x="181.89" y="392.62" width="1.1" height="1.1" fill="#0000ff"/>
<rect x="168.34" y="393.89" width="1.1" height="1.1" fill="#0000ff"/>
<rect x="189.33" y="374.27" width="1.1" height="1.1" fill="#0000ff"/>
<rect x="189.17" y="388.61" width="1.1" height="1.1" fill="#0000ff"/>
<rect x="190.95" y="384.60" width="1.1" height="1.1" fill="#0000ff"/>
<rect x="191.90" y="398.20" width="1.1" height="1.1" fill="#0000ff"/>
<rect x="190.84" y="406.15" width="1.1" height="1.1" fill="#0000ff"/>
<rect x="176.26" y="388.26" width="1.1" height="1.1" fill="#0000ff"/>
<rect x="187.98" y="383.45" width="1.1" height="1.1" fill="#0000ff"/>
<rect x="180.13" y="383.19" width="1.1" height="1.1" fill="#0000ff"/>
<rect x="180.31" y="393.18" width="1.1" height="1.1" fill="#0000ff"/>
<rect x="177.95" y="385.46" width="1.1" height="1.1" fill="#0000ff"/>
<rect x="194.14" y="373.10" width="1.1" height="1.1" fill="#0000ff"/>
<rect x="187.18" y="398.10" width="1.1" height="1.1" fill="#0000ff"/>
<rect x="178.28" y="380.01" width="1.1" height="1.1" fill="#0000ff"/>
<rect x="195.22" y="380.58" width="1.1" height="1.1" fill="#0000ff"/>
<rect x="174.08" y="387.51" width="1.1" height="1.1" fill="#0000ff"/>
<rect x="191.59" y="375.75" width="1.1" height="1.1" fill="#0000ff"/>
<rect x="178.69" y="383.93" width="1.1" height="1.1" fill="#0000ff"/>
<rect x="196.24" y="387.63" width="1.1" height="1.1" fill="#0000ff"/>
<rect x="196.99" y="378.13" width="1.1" height="1.1" fill="#0000ff"/>
<rect x="179.20" y="395.10" width="1.1" height="1.1" fill="#0000ff"/>
<rect x="198.00" y="388.07" width="1.1" height="1.1" fill="#0000ff"/>
<rect x="175.37" y="376.42" width="1.1" height="1.1" fill="#0000ff"/>
<rect x="185.82" y="378.89" width="1.1" height="1.1" fill="#0000ff"/>
<rect x="195.32" y="401.75" width="1.1" height="1.1" fill="#0000ff"/>
<rect x="173.95" y="381.98" width="1.1" height="1.1" fill="#0000ff"/>
<rect x="195.34" y="394.81" width="1.1" height="1.1" fill="#0000ff"/>
<rect x="195.30" y="384.34" width="1.1" height="1.1" fill="#0000ff"/>
<rect x="172.10" y="382.46" width="1.1" height="1.1" fill="#0000ff"/>
<rect x="194.88" y="381.72" width="1.1" height="1.1" fill="#0000ff"/>
<rect x="179.53" y="386.87" width="1.1" height="1.1" fill="#0000ff"/>
<rect x="182.05" y="386.61" width="1.1" height="1.1" fill="#0000ff"/>
<rect x="199.23" y="377.66" width="1.1" height="1.1" fill="#0000ff"/>
<rect x="182.55" y="405.69" width="1.1" height="1.1" fill="#0000ff"/>
<rect x="199.46" y="379.99" width="1.1" height="1.1" fill="#0000ff"/>
<rect x="193.22" y="401.69" width="1.1" height="1.1" fill="#0000ff"/>
<rect x="190.39" y="390.47" width="1.1" height="1.1" fill="#0000ff"/>
<rect x="177.56" y="384.19" width="1.1" height="1.1" fill="#0000ff"/>
<rect x="175.45" y="374.55" width="1.1" height="1.1" fill="#0000ff"/>
<rect x="187.84" y="382.28" width="1.1" height="1.1" fill="#0000ff"/>
<rect x="195.44" y="373.74" width="1.1" height="1.1" fill="#0000ff"/>
<rect x="198.64" y="396.64" width="1.1" height="1.1" fill="#0000ff"/>
<rect x="199.34" y="403.80" width="1.1" height="1.1" fill="#0000ff"/>
<rect x="198.51" y="392.52" width="1.1" height="1.1" fill="#0000ff"/>
<rect x="168.10" y="398.46" width="1.1" height="1.1" fill="#0000ff"/>
<rect x="173.54" y="382.74" width="1.1" height="1.1" fill="#0000ff"/>
<rect x="190.39" y="390.68" width="1.1" height="1.1" fill="#0000ff"/>
<rect x="181.84" y="405.30" width="1.1" height="1.1" fill="#0000ff"/>
<rect x="188.65" y="384.20" width="1.1" height="1.1" fill="#0000ff"/>
<rect x="176.31" y="402.57" width="1.1" height="1.1" fill="#0000ff"/>
<rect x="184.02" y="399.77" width="1.1" height="1.1" fill="#0000ff"/>
<rect x="179.72" y="379.12" width="1.1" height="1.1" fill="#0000ff"/>
<rect x="185.99" y="400.98" width="1.1" height="1.1" fill="#0000ff"/>
<rect x="173.53" y="400.10" width="1.1" height="1.1" fill="#0000ff"/>
<rect x="199.27" y="400.60" width="1.1" height="1.1" fill="#0000ff"/>
<rect x="189.21" y="402.60" width="1.1" height="1.1" fill="#0000ff"/>
<rect x="169.36" y="381.73" width="1.1" height="1.1" fill="#0000ff"/>
<rect x="176.86" y="390.76" width="1.1" height="1.1" fill="#0000ff"/>
<rect x="182.16" y="388.84" width="1.1" height="1.1" fill="#0000ff"/>
<rect x="169.53" y="376.63" width="1.1" height="1.1" fill="#0000ff"/>
<rect x="171.92" y="374.57" width="1.1" height="1.1" fill="#0000ff"/>
<rect x="170.60" y="389.87" width="1.1" height="1.1" fill="#0000ff"/>
<rect x="178.49" y="383.25" width="1.1" height="1.1" fill="#0000ff"/>
<rect x="179.70" y="394.99" width="1.1" height="1.1" fill="#0000ff"/>
<rect x="187.77" y="384.89" width="1.1" height="1.1" fill="#0000ff"/>
<rect x="174.20" y="383.76" width="1.1" height="1.1" fill="#0000ff"/>
<rect x="171.89" y="391.76" width="1.1" height="1.1" fill="#0000ff"/>
<rect x="192.21" y="385.57" width="1.1" height="1.1" fill="#0000ff"/>
<rect x="170.39" y="378.45" width="1.1" height="1.1" fill="#0000ff"/>
<rect x="180.45" y="393.49" width="1.1" height="1.1" fill="#0000ff"/>
<rect x="194.49" y="385.57" width="1.1" height="1.1" fill="#0000ff"/>
<rect x="195.13" y="394.14" width="1.1" height="1.1" fill="#0000ff"/>
<rect x="182.45" y="385.30" width="1.1" height="1.1" fill="#0000ff"/>
<rect x="184.67" y="396.96" width="1.1" height="1.1" fill="#0000ff"/>
<rect x="182.07" y="396.65" width="1.1" height="1.1" fill="#0000ff"/>
<rect x="183.46" y="380.80" width="1.1" height="1.1" fill="#0000ff"/>
<rect x="186.03" y="396.69" width="1.1" height="1.1" fill="#0000ff"/>
<rect x="170.11" y="387.15" width="1.1" height="1.1" fill="#0000ff"/>
<rect x="182.26" y="403.20" width="1.1" height="1.1" fill="#0000ff"/>
<rect x="199.77" y="385.36" width="1.1" height="1.1" fill="#0000ff"/>
<rect x="198.45" y="400.07" width="1.1" height="1.1" fill="#0000ff"/>
<rect x="176.64" y="388.53" width="1.1" height="1.1" fill="#0000ff"/>
<rect x="171.87" y="400.86" width="1.1" height="1.1" fill="#0000ff"/>
<rect x="190.37" y="403.47" width="1.1" height="1.1" fill="#0000ff"/>
<rect x="194.83" y="395.71" width="1.1" height="1.1" fill="#0000ff"/>
<rect x="192.82" y="392.05" width="1.1" height="1.1" fill="#0000ff"/>
<rect x="171.19" y="392.90" width="1.1" height="1.1" fill="#0000ff"/>
<rect x="194.21" y="373.71" width="1.1" height="1.1" fill="#0000ff"/>
<rect x="170.80" y="375.66" width="1.1" height="1.1" fill="#0000ff"/>
<rect x="197.85" y="378.47" width="1.1" height="1.1" fill="#0000ff"/>
<rect x="171.81" y="401.94" width="1.1" height="1.1" fill="#0000ff"/>
<rect x="190.75" y="401.67" width="1.1" height="1.1" fill="#0000ff"/>
<rect x="200.32" y="392.59" width="1.1" height="1.1" fill="#0000ff"/>
<rect x="195.05" y="373.43" width="1.1" height="1.1" fill="#0000ff"/>
<rect x="193.97" y="390.20" width="1.1" height="1.1" fill="#0000ff"/>
<rect x="192.18" y="375.92" width="1.1" height="1.1" fill="#0000ff"/>
<rect x="193.34" y="405.14" width="1.1" height="1.1" fill="#0000ff"/>
<rect x="169.75" y="383.60" width="1.1" height="1.1" fill="#0000ff"/>
<rect x="186.99" y="401.38" width="1.1" height="1.1" fill="#0000ff"/>
<rect x="175.95" y="378.50" width="1.1" height="1.1" fill="#0000ff"/>
<rect x="176.22" y="393.89" width="1.1" height="1.1" fill="#0000ff"/>
<rect x="193.50" y="386.05" width="1.1" height="1.1" fill="#0000ff"/>
<rect x="180.25" y="386.15" width="1.1" height="1.1" fill="#0000ff"/>
<rect x="179.66" y="386.91" width="1.1" height="1.1" fill="#0000ff"/>
<rect x="170.51" y="389.81" width="1.1" height="1.1" fill="#0000ff"/>
<rect x="201.03" y="386.72" width="1.1" height="1.1" fill="#0000ff"/>
<rect x="193.29" y="377.82" width="1.1" height="1.1" fill="#0000ff"/>
<rect x="191.35" y="398.84" width="1.1" height="1.1" fill="#0000ff"/>
<rect x="190.76" y="390.40" width="1.1" height="1.1" fill="#0000ff"/>
<rect x="184.24" y="394.85" width="1.1" height="1.1" fill="#0000ff"/>
<rect x="198.43" y="377.42" width="1.1" height="1.1" fill="#0000ff"/>
<rect x="170.94" y="398.56" width="1.1" height="1.1" fill="#0000ff"/>
<rect x="199.09" y="390.41" width="1.1" height="1.1" fill="#0000ff"/>
<rect x="173.21" y="399.39" width="1.1" height="1.1" fill="#0000ff"/>
<rect x="185.56" y="400.58" width="1.1" height="1.1" fill="#0000ff"/>
<rect x="186.31" y="404.35" width="1.1" height="1.1" fill="#0000ff"/>
<rect x="181.47" y="400.16" width="1.1" height="1.1" fill="#0000ff"/>
<rect x="177.31" y="379.15" width="1.1" height="1.1" fill="#0000ff"/>
<rect x="180.40" y="406.03" width="1.1" height="1.1" fill="#0000ff"/>
<rect x="171.95" y="402.63" width="1.1" height="1.1" fill="#0000ff"/>
<rect x="178.79" y="392.63" width="1.1" height="1.1" fill="#0000ff"/>
<rect x="183.75" y="396.95" width="1.1" height="1.1" fill="#0000ff"/>
<rect x="176.77" y="396.34" width="1.1" height="1.1" fill="#0000ff"/>
<rect x="186.49" y="401.34" width="1.1" height="1.1" fill="#0000ff"/>
<rect x="178.27" y="406.40" width="1.1" height="1.1" fill="#0000ff"/>
<rect x="174.25" y="396.67" width="1.1" height="1.1" fill="#0000ff"/>
<rect x="170.70" y="398.12" width="1.1" height="1.1" fill="#0000ff"/>
<rect x="187.26" y="387.34" width="1.1" height="1.1" fill="#0000ff"/>
<rect x="172.57" y="396.77" width="1.1" height="1.1" fill="#0000ff"/>
<rect x="187.76" y="389.85" width="1.1" height="1.1" fill="#0000ff"/>
<rect x="181.66" y="377.61" width="1.1" height="1.1" fill="#0000ff"/>
<rect x="178.60" y="396.49" width="1.1" height="1.1" fill="#0000ff"/>
<rect x="184.49" y="406.63" width="1.1" height="1.1" fill="#0000ff"/>
<rect x="175.62" y="379.55" width="1.1" height="1.1" fill="#0000ff"/>
<rect x="186.55" y="391.27" width="1.1" height="1.1" fill="#0000ff"/>
<rect x="185.42" y="400.52" width="1.1" height="1.1" fill="#0000ff"/>
<rect x="187.57" y="405.63" width="1.1" height="1.1" fill="#0000ff"/>
<rect x="192.73" y="383.70" width="1.1" height="1.1" fill="#0000ff"/>
<rect x="180.66" y="402.28" width="1.1" height="1.1" fill="#0000ff"/>
<rect x="183.07" y="392.48" width="1.1" height="1.1" fill="#0000ff"/>
<rect x="194.31" y="402.80" width="1.1" height="1.1" fill="#0000ff"/>
<rect x="181.78" y="401.85" width="1.1" height="1.1" fill="#0000ff"/>
<rect x="174.44" y="390.33" width="1.1" height="1.1" fill="#0000ff"/>
<rect x="189.64" y="395.73" width="1.1" height="1.1" fill="#0000ff"/>
<rect x="176.16" y="398.63" width="1.1" height="1.1" fill="#0000ff"/>
<rect x="185.71" y="404.52" width="1.1" height="1.1" fill="#0000ff"/>
<rect x="190.01" y="393.50" width="1.1" height="1.1" fill="#0000ff"/>
<rect x="180.13" y="394.47" width="1.1" height="1.1" fill="#0000ff"/>
<rect x="181.88" y="405.77" width="1.1" height="1.1" fill="#0000ff"/>
<rect x="194.35" y="405.03" width="1.1" height="1.1" fill="#0000ff"/>
<rect x="186.05" y="393.72" width="1.1" height="1.1" fill="#0000ff"/>
<rect x="189.65" y="392.99" width="1.1" height="1.1" fill="#0000ff"/>
<rect x="185.07" y="383.69" width="1.1" height="1.1" fill="#0000ff"/>
<rect x="180.54" y="405.62" width="1.1" height="1.1" fill="#0000ff"/>
<rect x="176.41" y="384.92" width="1.1" height="1.1" fill="#0000ff"/>
<rect x="182.33" y="407.22" width="1.1" height="1.1" fill="#0000ff"/>
<rect x="193.40" y="392.91" width="1.1" height="1.1" fill="#0000ff"/>
<rect x="180.17" y="394.67" width="1.1" height="1.1" fill="#0000ff"/>
<rect x="177.06" y="395.70" width="1.1" height="1.1" fill="#0000ff"/>
<rect x="181.39" y="385.03" width="1.1" height="1.1" fill="#0000ff"/>
<rect x="179.47" y="393.64" width="1.1" height="1.1" fill="#0000ff"/>
<rect x="177.55" y="387.55" width="1.1" height="1.1" fill="#0000ff"/>
<rect x="181.48" y="392.45" width="1.1" height="1.1" fill="#0000ff"/>
<rect x="186.90" y="393.83" width="1.1" height="1.1" fill="#0000ff"/>
<rect x="178.08" y="405.28" width="1.1" height="1.1" fill="#0000ff"/>
<rect x="176.31" y="390.29" width="1.1" height="1.1" fill="#0000ff"/>
<rect x="178.89" y="389.20" width="1.1" height="1.1" fill="#0000ff"/>
<rect x="181.82" y="399.51" width="1.1" height="1.1" fill="#0000ff"/>
<rect x="193.34" y="400.13" width="1.1" height="1.1" fill="#0000ff"/>
<rect x="183.69" y="386.62" width="1.1" height="1.1" fill="#0000ff"/>
<rect x="183.03" y="388.80" width="1.1" height="1.1" fill="#0000ff"/>
<rect x="182.78" y="402.36" width="1.1" height="1.1" fill="#0000ff"/>
<rect x="184.85" y="393.96" width="1.1" height="1.1" fill="#0000ff"/>
<rect x="178.28" y="395.29" width="1.1" height="1.1" fill="#0000ff"/>
<rect x="184.21" y="388.90" width="1.1" height="1.1" fill="#0000ff"/>
<rect x="179.98" y="401.67" width="1.1" height="1.1" fill="#0000ff"/>
<rect x="172.06" y="392.32" width="1.1" height="1.1" fill="#0000ff"/>
<rect x="175.44" y="406.37" width="1.1" height="1.1" fill="#0000ff"/>
<rect x="187.60" y="399.08" width="1.1" height="1.1" fill="#0000ff"/>
<rect x="186.17" y="397.47" width="1.1" height="1.1" fill="#0000ff"/>
<rect x="185.45" y="384.26" width="1.1" height="1.1" fill="#0000ff"/>
<rect x="185.22" y="399.64" width="1.1" height="1.1" fill="#0000ff"/>
<rect x="173.65" y="401.27" width="1.1" height="1.1" fill="#0000ff"/>
<rect x="188.03" y="384.70" width="1.1" height="1.1" fill="#0000ff"/>
<rect x="180.22" y="393.28" width="1.1" height="1.1" fill="#0000ff"/>
<rect x="179.84" y="398.21" width="1.1" height="1.1" fill="#0000ff"/>
<rect x="174.69" y="393.87" width="1.1" height="1.1" fill="#0000ff"/>
<rect x="184.99" y="400.57" width="1.1" height="1.1" fill="#0000ff"/>
<rect x="183.79" y="393.74" width="1.1" height="1.1" fill="#0000ff"/>
<rect x="188.19" y="381.40" width="1.1" height="1.1" fill="#0000ff"/>
<rect x="189.85" y="393.28" width="1.1" height="1.1" fill="#0000ff"/>
<rect x="174.87" y="392.42" width="1.1" height="1.1" fill="#0000ff"/>
<rect x="170.87" y="381.02" width="1.1" height="1.1" fill="#0000ff"/>
<rect x="181.21" y="389.96" width="1.1" height="1.1" fill="#0000ff"/>
<rect x="188.48" y="389.19" width="1.1" height="1.1" fill="#0000ff"/>
<rect x="174.57" y="388.69" width="1.1" height="1.1" fill="#0000ff"/>
<rect x="195.22" y="395.63" width="1.1" height="1.1" fill="#0000ff"/>
<rect x="179.26" y="388.46" width="1.1" height="1.1" fill="#0000ff"/>
<rect x="175.91" y="394.29" width="1.1" height="1.1" fill="#0000ff"/>
<rect x="186.38" y="403.58" width="1.1" height="1.1" fill="#0000ff"/>
<rect x="191.31" y="397.37" width="1.1" height="1.1" fill="#0000ff"/>
<rect x="178.93" y="389.38" width="1.1" height="1.1" fill="#0000ff"/>
<rect x="186.33" y="393.06" width="1.1" height="1.1" fill="#0000ff"/>
<rect x="185.97" y="385.93" width="1.1" height="1.1" fill="#0000ff"/>
<rect x="189.61" y="397.53" width="1.1" height="1.1" fill="#0000ff"/>
<rect x="183.74" y="398.28" width="1.1" height="1.1" fill="#0000ff"/>
<rect x="168.11" y="391.51" width="1.1" height="1.1" fill="#0000ff"/>
<rect x="182.19" y="391.88" width="1.1" height="1.1" fill="#0000ff"/>
<rect x="189.30" y="388.01" width="1.1" height="1.1" fill="#0000ff"/>
<rect x="193.21" y="390.49" width="1.1" height="1.1" fill="#0000ff"/>
<rect x="183.04" y="388.99" width="1.1" height="1.1" fill="#0000ff"/>
<rect x="188.99" y="380.12" width="1.1" height="1.1" fill="#0000ff"/>
<rect x="188.19" y="389.66" width="1.1" height="1.1" fill="#0000ff"/>
<rect x="183.79" y="387.32" width="1.1" height="1.1" fill="#0000ff"/>
<rect x="185.02" y="396.77" width="1.1" height="1.1" fill="#0000ff"/>
<rect x="187.50" y="397.67" width="1.1" height="1.1" fill="#0000ff"/>
<rect x="187.72" y="402.46" width="1.1" height="1.1" fill="#0000ff"/>
<rect x="180.78" y="387.12" width="1.1" height="1.1" fill="#0000ff"/>
<rect x="174.69" y="400.25" width="1.1" height="1.1" fill="#0000ff"/>
<rect x="180.87" y="402.88" width="1.1" height="1.1" fill="#0000ff"/>
<rect x="183.76" y="388.30" width="1.1" height="1.1" fill="#0000ff"/>
<rect x="182.21" y="388.82" width="1.1" height="1.1" fill="#0000ff"/>
<rect x="177.65" y="401.73" width="1.1" height="1.1" fill="#0000ff"/>
<rect x="181.84" y="373.87" width="1.1" height="1.1" fill="#0000ff"/>
<rect x="189.68" y="376.52" width="1.1" height="1.1" fill="#0000ff"/>
<rect x="186.16" y="372.99" width="1.1" height="1.1" fill="#0000ff"/>
<rect x="181.51" y="377.49" width="1.1" height="1.1" fill="#0000ff"/>
<rect x="186.41" y="380.21" width="1.1" height="1.1" fill="#0000ff"/>
<rect x="182.37" y="378.64" width="1.1" height="1.1" fill="#0000ff"/>
<rect x="188.39" y="376.98" width="1.1" height="1.1" fill="#0000ff"/>
<rect x="188.97" y="382.87" width="1.1" height="1.1" fill="#0000ff"/>
<rect x="186.67" y="376.95" width="1.1" height="1.1" fill="#0000ff"/>
<rect x="179.46" y="378.54" width="1.1" height="1.1" fill="#0000ff"/>
<rect x="184.87" y="374.48" width="1.1" height="1.1" fill="#0000ff"/>
<rect x="180.35" y="380.10" width="1.1" height="1.1" fill="#0000ff"/>
<rect x="201.25" y="379.20" width="1.1" height="1.1" fill="#0000ff"/>
<rect x="185.98" y="379.22" width="1.1" height="1.1" fill="#0000ff"/>
<rect x="181.79" y="377.06" width="1.1" height="1.1" fill="#0000ff"/>
<rect x="181.36" y="372.37" width="1.1" height="1.1" fill="#0000ff"/>
<rect x="186.88" y="377.91" width="1.1" height="1.1" fill="#0000ff"/>
<rect x="190.21" y="374.25" width="1.1" height="1.1" fill="#0000ff"/>
<rect x="185.45" y="381.45" width="1.1" height="1.1" fill="#0000ff"/>
<rect x="183.91" y="378.78" width="1.1" height="1.1" fill="#0000ff"/>
<rect x="185.01" y="376.15" width="1.1" height="1.1" fill="#0000ff"/>
<rect x="188.09" y="376.97" width="1.1" height="1.1" fill="#0000ff"/>
<rect x="186.26" y="377.97" width="1.1" height="1.1" fill="#0000ff"/>
<rect x="193.94" y="379.53" width="1.1" height="1.1" fill="#0000ff"/>
<rect x="188.80" y="373.96" width="1.1" height="1.1" fill="#0000ff"/>
<rect x="192.38" y="375.27" width="1.1" height="1.1" fill="#0000ff"/>
<rect x="186.97" y="375.83" width="1.1" height="1.1" fill="#0000ff"/>
<rect x="182.61" y="384.63" width="1.1" height="1.1" fill="#0000ff"/>
<rect x="187.95" y="375.55" width="1.1" height="1.1" fill="#0000ff"/>
<rect x="182.21" y="388.37" width="1.1" height="1.1" fill="#0000ff"/>
<rect x="190.06" y="380.62" width="1.1" height="1.1" fill="#0000ff"/>
<rect x="180.75" y="384.73" width="1.1" height="1.1" fill="#0000ff"/>
<rect x="188.90" y="374.74" width="1.1" height="1.1" fill="#0000ff"/>
<rect x="190.65" y="373.66" width="1.1" height="1.1" fill="#0000ff"/>
<rect x="181.62" y="378.79" width="1.1" height="1.1" fill="#0000ff"/>
<rect x="43.6" y="353.0" width="188.10" height="138.30" fill="none" stroke="#5a5a5a" stroke-width="1.3"/>
<line x1="40.80" y1="491.30" x2="43.60" y2="491.30" stroke="#5a5a5a" stroke-width="1.0"/>
<text x="38.40" y="494.20" font-size="8.8" text-anchor="end" fill="#1a1a1a" stroke="#1a1a1a" stroke-width="0.08">-100</text>
<line x1="40.80" y1="477.47" x2="43.60" y2="477.47" stroke="#5a5a5a" stroke-width="1.0"/>
<text x="38.40" y="480.37" font-size="8.8" text-anchor="end" fill="#1a1a1a" stroke="#1a1a1a" stroke-width="0.08">-80</text>
<line x1="40.80" y1="463.64" x2="43.60" y2="463.64" stroke="#5a5a5a" stroke-width="1.0"/>
<text x="38.40" y="466.54" font-size="8.8" text-anchor="end" fill="#1a1a1a" stroke="#1a1a1a" stroke-width="0.08">-60</text>
<line x1="40.80" y1="449.81" x2="43.60" y2="449.81" stroke="#5a5a5a" stroke-width="1.0"/>
<text x="38.40" y="452.71" font-size="8.8" text-anchor="end" fill="#1a1a1a" stroke="#1a1a1a" stroke-width="0.08">-40</text>
<line x1="40.80" y1="435.98" x2="43.60" y2="435.98" stroke="#5a5a5a" stroke-width="1.0"/>
<text x="38.40" y="438.88" font-size="8.8" text-anchor="end" fill="#1a1a1a" stroke="#1a1a1a" stroke-width="0.08">-20</text>
<line x1="40.80" y1="422.15" x2="43.60" y2="422.15" stroke="#5a5a5a" stroke-width="1.0"/>
<text x="38.40" y="425.05" font-size="8.8" text-anchor="end" fill="#1a1a1a" stroke="#1a1a1a" stroke-width="0.08">0</text>
<line x1="40.80" y1="408.32" x2="43.60" y2="408.32" stroke="#5a5a5a" stroke-width="1.0"/>
<text x="38.40" y="411.22" font-size="8.8" text-anchor="end" fill="#1a1a1a" stroke="#1a1a1a" stroke-width="0.08">20</text>
<line x1="40.80" y1="394.49" x2="43.60" y2="394.49" stroke="#5a5a5a" stroke-width="1.0"/>
<text x="38.40" y="397.39" font-size="8.8" text-anchor="end" fill="#1a1a1a" stroke="#1a1a1a" stroke-width="0.08">40</text>
<line x1="40.80" y1="380.66" x2="43.60" y2="380.66" stroke="#5a5a5a" stroke-width="1.0"/>
<text x="38.40" y="383.56" font-size="8.8" text-anchor="end" fill="#1a1a1a" stroke="#1a1a1a" stroke-width="0.08">60</text>
<line x1="40.80" y1="366.83" x2="43.60" y2="366.83" stroke="#5a5a5a" stroke-width="1.0"/>
<text x="38.40" y="369.73" font-size="8.8" text-anchor="end" fill="#1a1a1a" stroke="#1a1a1a" stroke-width="0.08">80</text>
<line x1="40.80" y1="353.00" x2="43.60" y2="353.00" stroke="#5a5a5a" stroke-width="1.0"/>
<text x="38.40" y="355.90" font-size="8.8" text-anchor="end" fill="#1a1a1a" stroke="#1a1a1a" stroke-width="0.08">100</text>
<line x1="43.60" y1="491.30" x2="43.60" y2="493.90" stroke="#5a5a5a" stroke-width="1.0"/>
<text x="43.60" y="503.30" font-size="8.8" text-anchor="middle" fill="#1a1a1a" stroke="#1a1a1a" stroke-width="0.08">0</text>
<line x1="59.27" y1="491.30" x2="59.27" y2="492.90" stroke="#5a5a5a" stroke-width="1.0"/>
<line x1="74.95" y1="491.30" x2="74.95" y2="493.90" stroke="#5a5a5a" stroke-width="1.0"/>
<text x="74.95" y="503.30" font-size="8.8" text-anchor="middle" fill="#1a1a1a" stroke="#1a1a1a" stroke-width="0.08">60</text>
<line x1="90.62" y1="491.30" x2="90.62" y2="492.90" stroke="#5a5a5a" stroke-width="1.0"/>
<line x1="106.30" y1="491.30" x2="106.30" y2="493.90" stroke="#5a5a5a" stroke-width="1.0"/>
<text x="106.30" y="503.30" font-size="8.8" text-anchor="middle" fill="#1a1a1a" stroke="#1a1a1a" stroke-width="0.08">120</text>
<line x1="121.97" y1="491.30" x2="121.97" y2="492.90" stroke="#5a5a5a" stroke-width="1.0"/>
<line x1="137.65" y1="491.30" x2="137.65" y2="493.90" stroke="#5a5a5a" stroke-width="1.0"/>
<text x="137.65" y="503.30" font-size="8.8" text-anchor="middle" fill="#1a1a1a" stroke="#1a1a1a" stroke-width="0.08">180</text>
<line x1="153.33" y1="491.30" x2="153.33" y2="492.90" stroke="#5a5a5a" stroke-width="1.0"/>
<line x1="169.00" y1="491.30" x2="169.00" y2="493.90" stroke="#5a5a5a" stroke-width="1.0"/>
<text x="169.00" y="503.30" font-size="8.8" text-anchor="middle" fill="#1a1a1a" stroke="#1a1a1a" stroke-width="0.08">240</text>
<line x1="184.67" y1="491.30" x2="184.67" y2="492.90" stroke="#5a5a5a" stroke-width="1.0"/>
<line x1="200.35" y1="491.30" x2="200.35" y2="493.90" stroke="#5a5a5a" stroke-width="1.0"/>
<text x="200.35" y="503.30" font-size="8.8" text-anchor="middle" fill="#1a1a1a" stroke="#1a1a1a" stroke-width="0.08">300</text>
<line x1="216.02" y1="491.30" x2="216.02" y2="492.90" stroke="#5a5a5a" stroke-width="1.0"/>
<line x1="231.70" y1="491.30" x2="231.70" y2="493.90" stroke="#5a5a5a" stroke-width="1.0"/>
<text x="231.70" y="503.30" font-size="8.8" text-anchor="middle" fill="#1a1a1a" stroke="#1a1a1a" stroke-width="0.08">360</text>
<text x="138.85" y="512.40" font-size="9.3" text-anchor="middle" fill="#1a1a1a" stroke="#1a1a1a" stroke-width="0.2">Phase (degree)</text>
<text x="25.70" y="418.95" font-size="9.3" text-anchor="middle" fill="#1a1a1a" stroke="#1a1a1a" stroke-width="0.2" transform="rotate(-90 25.70 418.95)">Apparent charge (pC)</text>
<text x="1.20" y="355.80" font-size="13" text-anchor="start" fill="#111" stroke="#111" stroke-width="0.2" font-weight="bold">(c)</text>
<text x="48.40" y="373.80" font-size="13" text-anchor="start" fill="#111" stroke="#111" stroke-width="0.2" font-weight="bold">21kV</text>
<rect x="388.09" y="143.10" width="19.12" height="7.09" fill="#0000ff"/>
<rect x="388.29" y="145.47" width="1.06" height="4.73" fill="#0000ff"/>
<rect x="389.76" y="136.01" width="1.06" height="14.19" fill="#0000ff"/>
<rect x="390.77" y="136.01" width="0.51" height="14.19" fill="#5a5aff"/>
<rect x="391.23" y="131.28" width="1.06" height="18.92" fill="#0000ff"/>
<rect x="392.24" y="131.28" width="0.51" height="18.92" fill="#5a5aff"/>
<rect x="392.70" y="126.55" width="1.06" height="23.65" fill="#0000ff"/>
<rect x="393.71" y="131.28" width="0.51" height="18.92" fill="#5a5aff"/>
<rect x="394.17" y="131.28" width="1.06" height="18.92" fill="#0000ff"/>
<rect x="395.18" y="131.28" width="0.51" height="18.92" fill="#5a5aff"/>
<rect x="395.65" y="112.36" width="1.06" height="37.84" fill="#0000ff"/>
<rect x="396.65" y="121.82" width="0.51" height="28.38" fill="#5a5aff"/>
<rect x="397.12" y="121.82" width="1.06" height="28.38" fill="#0000ff"/>
<rect x="398.13" y="131.28" width="0.51" height="18.92" fill="#5a5aff"/>
<rect x="398.59" y="131.28" width="1.06" height="18.92" fill="#0000ff"/>
<rect x="399.60" y="131.28" width="0.51" height="18.92" fill="#5a5aff"/>
<rect x="400.06" y="126.55" width="1.06" height="23.65" fill="#0000ff"/>
<rect x="401.07" y="136.01" width="0.51" height="14.19" fill="#5a5aff"/>
<rect x="401.53" y="136.01" width="1.06" height="14.19" fill="#0000ff"/>
<rect x="402.54" y="136.01" width="0.51" height="14.19" fill="#5a5aff"/>
<rect x="403.00" y="131.28" width="1.06" height="18.92" fill="#0000ff"/>
<rect x="404.47" y="145.47" width="1.06" height="4.73" fill="#0000ff"/>
<rect x="405.94" y="145.47" width="1.06" height="4.73" fill="#0000ff"/>
<rect x="263.8" y="8.3" width="176.50" height="141.90" fill="none" stroke="#5a5a5a" stroke-width="1.3"/>
<line x1="261.00" y1="150.20" x2="263.80" y2="150.20" stroke="#5a5a5a" stroke-width="1.0"/>
<text x="258.80" y="153.10" font-size="8.8" text-anchor="end" fill="#1a1a1a" stroke="#1a1a1a" stroke-width="0.08">0</text>
<line x1="261.00" y1="126.55" x2="263.80" y2="126.55" stroke="#5a5a5a" stroke-width="1.0"/>
<text x="258.80" y="129.45" font-size="8.8" text-anchor="end" fill="#1a1a1a" stroke="#1a1a1a" stroke-width="0.08">5</text>
<line x1="261.00" y1="102.90" x2="263.80" y2="102.90" stroke="#5a5a5a" stroke-width="1.0"/>
<text x="258.80" y="105.80" font-size="8.8" text-anchor="end" fill="#1a1a1a" stroke="#1a1a1a" stroke-width="0.08">10</text>
<line x1="261.00" y1="79.25" x2="263.80" y2="79.25" stroke="#5a5a5a" stroke-width="1.0"/>
<text x="258.80" y="82.15" font-size="8.8" text-anchor="end" fill="#1a1a1a" stroke="#1a1a1a" stroke-width="0.08">15</text>
<line x1="261.00" y1="55.60" x2="263.80" y2="55.60" stroke="#5a5a5a" stroke-width="1.0"/>
<text x="258.80" y="58.50" font-size="8.8" text-anchor="end" fill="#1a1a1a" stroke="#1a1a1a" stroke-width="0.08">20</text>
<line x1="261.00" y1="31.95" x2="263.80" y2="31.95" stroke="#5a5a5a" stroke-width="1.0"/>
<text x="258.80" y="34.85" font-size="8.8" text-anchor="end" fill="#1a1a1a" stroke="#1a1a1a" stroke-width="0.08">25</text>
<line x1="261.00" y1="8.30" x2="263.80" y2="8.30" stroke="#5a5a5a" stroke-width="1.0"/>
<text x="258.80" y="11.20" font-size="8.8" text-anchor="end" fill="#1a1a1a" stroke="#1a1a1a" stroke-width="0.08">30</text>
<line x1="263.80" y1="150.20" x2="263.80" y2="152.80" stroke="#5a5a5a" stroke-width="1.0"/>
<text x="263.80" y="162.20" font-size="8.8" text-anchor="middle" fill="#1a1a1a" stroke="#1a1a1a" stroke-width="0.08">0</text>
<line x1="278.51" y1="150.20" x2="278.51" y2="151.80" stroke="#5a5a5a" stroke-width="1.0"/>
<line x1="293.22" y1="150.20" x2="293.22" y2="152.80" stroke="#5a5a5a" stroke-width="1.0"/>
<text x="293.22" y="162.20" font-size="8.8" text-anchor="middle" fill="#1a1a1a" stroke="#1a1a1a" stroke-width="0.08">60</text>
<line x1="307.93" y1="150.20" x2="307.93" y2="151.80" stroke="#5a5a5a" stroke-width="1.0"/>
<line x1="322.63" y1="150.20" x2="322.63" y2="152.80" stroke="#5a5a5a" stroke-width="1.0"/>
<text x="322.63" y="162.20" font-size="8.8" text-anchor="middle" fill="#1a1a1a" stroke="#1a1a1a" stroke-width="0.08">120</text>
<line x1="337.34" y1="150.20" x2="337.34" y2="151.80" stroke="#5a5a5a" stroke-width="1.0"/>
<line x1="352.05" y1="150.20" x2="352.05" y2="152.80" stroke="#5a5a5a" stroke-width="1.0"/>
<text x="352.05" y="162.20" font-size="8.8" text-anchor="middle" fill="#1a1a1a" stroke="#1a1a1a" stroke-width="0.08">180</text>
<line x1="366.76" y1="150.20" x2="366.76" y2="151.80" stroke="#5a5a5a" stroke-width="1.0"/>
<line x1="381.47" y1="150.20" x2="381.47" y2="152.80" stroke="#5a5a5a" stroke-width="1.0"/>
<text x="381.47" y="162.20" font-size="8.8" text-anchor="middle" fill="#1a1a1a" stroke="#1a1a1a" stroke-width="0.08">240</text>
<line x1="396.18" y1="150.20" x2="396.18" y2="151.80" stroke="#5a5a5a" stroke-width="1.0"/>
<line x1="410.88" y1="150.20" x2="410.88" y2="152.80" stroke="#5a5a5a" stroke-width="1.0"/>
<text x="410.88" y="162.20" font-size="8.8" text-anchor="middle" fill="#1a1a1a" stroke="#1a1a1a" stroke-width="0.08">300</text>
<line x1="425.59" y1="150.20" x2="425.59" y2="151.80" stroke="#5a5a5a" stroke-width="1.0"/>
<line x1="440.30" y1="150.20" x2="440.30" y2="152.80" stroke="#5a5a5a" stroke-width="1.0"/>
<text x="440.30" y="162.20" font-size="8.8" text-anchor="middle" fill="#1a1a1a" stroke="#1a1a1a" stroke-width="0.08">360</text>
<text x="352.05" y="172.10" font-size="9.3" text-anchor="middle" fill="#1a1a1a" stroke="#1a1a1a" stroke-width="0.2">Phase (degree)</text>
<text x="249.20" y="78.05" font-size="9.3" text-anchor="middle" fill="#1a1a1a" stroke="#1a1a1a" stroke-width="0.2" transform="rotate(-90 249.20 78.05)">Number</text>
<text x="271.10" y="27.50" font-size="13" text-anchor="start" fill="#111" stroke="#111" stroke-width="0.2" font-weight="bold">17kV</text>
<rect x="304.83" y="315.81" width="5.89" height="7.09" fill="#0000ff"/>
<rect x="305.04" y="313.45" width="1.06" height="9.45" fill="#0000ff"/>
<rect x="306.51" y="318.17" width="1.06" height="4.73" fill="#0000ff"/>
<rect x="307.98" y="308.72" width="1.06" height="14.18" fill="#0000ff"/>
<rect x="309.00" y="313.45" width="0.51" height="9.45" fill="#5a5aff"/>
<rect x="309.46" y="313.45" width="1.06" height="9.45" fill="#0000ff"/>
<rect x="383.42" y="315.81" width="27.98" height="7.09" fill="#0000ff"/>
<rect x="383.62" y="313.45" width="1.06" height="9.45" fill="#0000ff"/>
<rect x="385.09" y="318.17" width="1.06" height="4.73" fill="#0000ff"/>
<rect x="386.57" y="308.72" width="1.06" height="14.18" fill="#0000ff"/>
<rect x="387.58" y="308.72" width="0.51" height="14.18" fill="#5a5aff"/>
<rect x="388.04" y="303.99" width="1.06" height="18.91" fill="#0000ff"/>
<rect x="389.05" y="308.72" width="0.51" height="14.18" fill="#5a5aff"/>
<rect x="389.51" y="308.72" width="1.06" height="14.18" fill="#0000ff"/>
<rect x="390.52" y="308.72" width="0.51" height="14.18" fill="#5a5aff"/>
<rect x="390.98" y="299.27" width="1.06" height="23.63" fill="#0000ff"/>
<rect x="391.99" y="303.99" width="0.51" height="18.91" fill="#5a5aff"/>
<rect x="392.46" y="303.99" width="1.06" height="18.91" fill="#0000ff"/>
<rect x="393.47" y="303.99" width="0.51" height="18.91" fill="#5a5aff"/>
<rect x="393.93" y="294.54" width="1.06" height="28.36" fill="#0000ff"/>
<rect x="394.94" y="294.54" width="0.51" height="28.36" fill="#5a5aff"/>
<rect x="395.40" y="285.09" width="1.06" height="37.81" fill="#0000ff"/>
<rect x="396.41" y="285.09" width="0.51" height="37.81" fill="#5a5aff"/>
<rect x="396.87" y="275.63" width="1.06" height="47.27" fill="#0000ff"/>
<rect x="397.88" y="285.09" width="0.51" height="37.81" fill="#5a5aff"/>
<rect x="398.35" y="285.09" width="1.06" height="37.81" fill="#0000ff"/>
<rect x="399.36" y="294.54" width="0.51" height="28.36" fill="#5a5aff"/>
<rect x="399.82" y="294.54" width="1.06" height="28.36" fill="#0000ff"/>
<rect x="400.83" y="299.27" width="0.51" height="23.63" fill="#5a5aff"/>
<rect x="401.29" y="299.27" width="1.06" height="23.63" fill="#0000ff"/>
<rect x="402.30" y="303.99" width="0.51" height="18.91" fill="#5a5aff"/>
<rect x="402.76" y="303.99" width="1.06" height="18.91" fill="#0000ff"/>
<rect x="403.77" y="313.45" width="0.51" height="9.45" fill="#5a5aff"/>
<rect x="404.24" y="313.45" width="1.06" height="9.45" fill="#0000ff"/>
<rect x="405.25" y="313.45" width="0.51" height="9.45" fill="#5a5aff"/>
<rect x="405.71" y="303.99" width="1.06" height="18.91" fill="#0000ff"/>
<rect x="406.72" y="313.45" width="0.51" height="9.45" fill="#5a5aff"/>
<rect x="407.18" y="313.45" width="1.06" height="9.45" fill="#0000ff"/>
<rect x="408.19" y="313.45" width="0.51" height="9.45" fill="#5a5aff"/>
<rect x="408.65" y="308.72" width="1.06" height="14.18" fill="#0000ff"/>
<rect x="410.13" y="318.17" width="1.06" height="4.73" fill="#0000ff"/>
<rect x="263.8" y="181.1" width="176.70" height="141.80" fill="none" stroke="#5a5a5a" stroke-width="1.3"/>
<line x1="261.00" y1="322.90" x2="263.80" y2="322.90" stroke="#5a5a5a" stroke-width="1.0"/>
<text x="258.80" y="325.80" font-size="8.8" text-anchor="end" fill="#1a1a1a" stroke="#1a1a1a" stroke-width="0.08">0</text>
<line x1="261.00" y1="299.27" x2="263.80" y2="299.27" stroke="#5a5a5a" stroke-width="1.0"/>
<text x="258.80" y="302.17" font-size="8.8" text-anchor="end" fill="#1a1a1a" stroke="#1a1a1a" stroke-width="0.08">5</text>
<line x1="261.00" y1="275.63" x2="263.80" y2="275.63" stroke="#5a5a5a" stroke-width="1.0"/>
<text x="258.80" y="278.53" font-size="8.8" text-anchor="end" fill="#1a1a1a" stroke="#1a1a1a" stroke-width="0.08">10</text>
<line x1="261.00" y1="252.00" x2="263.80" y2="252.00" stroke="#5a5a5a" stroke-width="1.0"/>
<text x="258.80" y="254.90" font-size="8.8" text-anchor="end" fill="#1a1a1a" stroke="#1a1a1a" stroke-width="0.08">15</text>
<line x1="261.00" y1="228.37" x2="263.80" y2="228.37" stroke="#5a5a5a" stroke-width="1.0"/>
<text x="258.80" y="231.27" font-size="8.8" text-anchor="end" fill="#1a1a1a" stroke="#1a1a1a" stroke-width="0.08">20</text>
<line x1="261.00" y1="204.73" x2="263.80" y2="204.73" stroke="#5a5a5a" stroke-width="1.0"/>
<text x="258.80" y="207.63" font-size="8.8" text-anchor="end" fill="#1a1a1a" stroke="#1a1a1a" stroke-width="0.08">25</text>
<line x1="261.00" y1="181.10" x2="263.80" y2="181.10" stroke="#5a5a5a" stroke-width="1.0"/>
<text x="258.80" y="184.00" font-size="8.8" text-anchor="end" fill="#1a1a1a" stroke="#1a1a1a" stroke-width="0.08">30</text>
<line x1="263.80" y1="322.90" x2="263.80" y2="325.50" stroke="#5a5a5a" stroke-width="1.0"/>
<text x="263.80" y="334.90" font-size="8.8" text-anchor="middle" fill="#1a1a1a" stroke="#1a1a1a" stroke-width="0.08">0</text>
<line x1="278.53" y1="322.90" x2="278.53" y2="324.50" stroke="#5a5a5a" stroke-width="1.0"/>
<line x1="293.25" y1="322.90" x2="293.25" y2="325.50" stroke="#5a5a5a" stroke-width="1.0"/>
<text x="293.25" y="334.90" font-size="8.8" text-anchor="middle" fill="#1a1a1a" stroke="#1a1a1a" stroke-width="0.08">60</text>
<line x1="307.98" y1="322.90" x2="307.98" y2="324.50" stroke="#5a5a5a" stroke-width="1.0"/>
<line x1="322.70" y1="322.90" x2="322.70" y2="325.50" stroke="#5a5a5a" stroke-width="1.0"/>
<text x="322.70" y="334.90" font-size="8.8" text-anchor="middle" fill="#1a1a1a" stroke="#1a1a1a" stroke-width="0.08">120</text>
<line x1="337.43" y1="322.90" x2="337.43" y2="324.50" stroke="#5a5a5a" stroke-width="1.0"/>
<line x1="352.15" y1="322.90" x2="352.15" y2="325.50" stroke="#5a5a5a" stroke-width="1.0"/>
<text x="352.15" y="334.90" font-size="8.8" text-anchor="middle" fill="#1a1a1a" stroke="#1a1a1a" stroke-width="0.08">180</text>
<line x1="366.88" y1="322.90" x2="366.88" y2="324.50" stroke="#5a5a5a" stroke-width="1.0"/>
<line x1="381.60" y1="322.90" x2="381.60" y2="325.50" stroke="#5a5a5a" stroke-width="1.0"/>
<text x="381.60" y="334.90" font-size="8.8" text-anchor="middle" fill="#1a1a1a" stroke="#1a1a1a" stroke-width="0.08">240</text>
<line x1="396.32" y1="322.90" x2="396.32" y2="324.50" stroke="#5a5a5a" stroke-width="1.0"/>
<line x1="411.05" y1="322.90" x2="411.05" y2="325.50" stroke="#5a5a5a" stroke-width="1.0"/>
<text x="411.05" y="334.90" font-size="8.8" text-anchor="middle" fill="#1a1a1a" stroke="#1a1a1a" stroke-width="0.08">300</text>
<line x1="425.77" y1="322.90" x2="425.77" y2="324.50" stroke="#5a5a5a" stroke-width="1.0"/>
<line x1="440.50" y1="322.90" x2="440.50" y2="325.50" stroke="#5a5a5a" stroke-width="1.0"/>
<text x="440.50" y="334.90" font-size="8.8" text-anchor="middle" fill="#1a1a1a" stroke="#1a1a1a" stroke-width="0.08">360</text>
<text x="352.15" y="345.50" font-size="9.3" text-anchor="middle" fill="#1a1a1a" stroke="#1a1a1a" stroke-width="0.2">Phase (degree)</text>
<text x="249.20" y="250.80" font-size="9.3" text-anchor="middle" fill="#1a1a1a" stroke="#1a1a1a" stroke-width="0.2" transform="rotate(-90 249.20 250.80)">Number</text>
<text x="271.10" y="201.00" font-size="13" text-anchor="start" fill="#111" stroke="#111" stroke-width="0.2" font-weight="bold">19kV</text>
<rect x="301.19" y="485.42" width="10.29" height="7.08" fill="#0000ff"/>
<rect x="301.39" y="483.06" width="1.06" height="9.44" fill="#0000ff"/>
<rect x="302.40" y="483.06" width="0.51" height="9.44" fill="#5a5aff"/>
<rect x="302.86" y="478.34" width="1.06" height="14.16" fill="#0000ff"/>
<rect x="303.87" y="478.34" width="0.51" height="14.16" fill="#5a5aff"/>
<rect x="304.33" y="478.34" width="1.06" height="14.16" fill="#0000ff"/>
<rect x="305.34" y="478.34" width="0.51" height="14.16" fill="#5a5aff"/>
<rect x="305.80" y="464.18" width="1.06" height="28.32" fill="#0000ff"/>
<rect x="306.81" y="473.62" width="0.51" height="18.88" fill="#5a5aff"/>
<rect x="307.27" y="473.62" width="1.06" height="18.88" fill="#0000ff"/>
<rect x="308.28" y="483.06" width="0.51" height="9.44" fill="#5a5aff"/>
<rect x="308.74" y="483.06" width="1.06" height="9.44" fill="#0000ff"/>
<rect x="310.21" y="487.78" width="1.06" height="4.72" fill="#0000ff"/>
<rect x="380.91" y="485.42" width="30.87" height="7.08" fill="#0000ff"/>
<rect x="381.12" y="487.78" width="1.06" height="4.72" fill="#0000ff"/>
<rect x="382.59" y="473.62" width="1.06" height="18.88" fill="#0000ff"/>
<rect x="383.59" y="478.34" width="0.51" height="14.16" fill="#5a5aff"/>
<rect x="384.06" y="478.34" width="1.06" height="14.16" fill="#0000ff"/>
<rect x="385.06" y="478.34" width="0.51" height="14.16" fill="#5a5aff"/>
<rect x="385.53" y="468.90" width="1.06" height="23.60" fill="#0000ff"/>
<rect x="386.53" y="483.06" width="0.51" height="9.44" fill="#5a5aff"/>
<rect x="387.00" y="483.06" width="1.06" height="9.44" fill="#0000ff"/>
<rect x="388.00" y="483.06" width="0.51" height="9.44" fill="#5a5aff"/>
<rect x="388.47" y="468.90" width="1.06" height="23.60" fill="#0000ff"/>
<rect x="389.47" y="468.90" width="0.51" height="23.60" fill="#5a5aff"/>
<rect x="389.94" y="450.02" width="1.06" height="42.48" fill="#0000ff"/>
<rect x="390.94" y="454.74" width="0.51" height="37.76" fill="#5a5aff"/>
<rect x="391.41" y="454.74" width="1.06" height="37.76" fill="#0000ff"/>
<rect x="392.41" y="459.46" width="0.51" height="33.04" fill="#5a5aff"/>
<rect x="392.88" y="459.46" width="1.06" height="33.04" fill="#0000ff"/>
<rect x="393.88" y="459.46" width="0.51" height="33.04" fill="#5a5aff"/>
<rect x="394.35" y="431.14" width="1.06" height="61.36" fill="#0000ff"/>
<rect x="395.35" y="435.86" width="0.51" height="56.64" fill="#5a5aff"/>
<rect x="395.82" y="435.86" width="1.06" height="56.64" fill="#0000ff"/>
<rect x="396.82" y="445.30" width="0.51" height="47.20" fill="#5a5aff"/>
<rect x="397.29" y="445.30" width="1.06" height="47.20" fill="#0000ff"/>
<rect x="398.29" y="459.46" width="0.51" height="33.04" fill="#5a5aff"/>
<rect x="398.76" y="459.46" width="1.06" height="33.04" fill="#0000ff"/>
<rect x="399.76" y="468.90" width="0.51" height="23.60" fill="#5a5aff"/>
<rect x="400.23" y="468.90" width="1.06" height="23.60" fill="#0000ff"/>
<rect x="401.23" y="468.90" width="0.51" height="23.60" fill="#5a5aff"/>
<rect x="401.70" y="450.02" width="1.06" height="42.48" fill="#0000ff"/>
<rect x="402.70" y="459.46" width="0.51" height="33.04" fill="#5a5aff"/>
<rect x="403.17" y="459.46" width="1.06" height="33.04" fill="#0000ff"/>
<rect x="404.17" y="464.18" width="0.51" height="28.32" fill="#5a5aff"/>
<rect x="404.64" y="464.18" width="1.06" height="28.32" fill="#0000ff"/>
<rect x="405.64" y="473.62" width="0.51" height="18.88" fill="#5a5aff"/>
<rect x="406.11" y="473.62" width="1.06" height="18.88" fill="#0000ff"/>
<rect x="407.11" y="478.34" width="0.51" height="14.16" fill="#5a5aff"/>
<rect x="407.58" y="478.34" width="1.06" height="14.16" fill="#0000ff"/>
<rect x="408.58" y="478.34" width="0.51" height="14.16" fill="#5a5aff"/>
<rect x="409.05" y="478.34" width="1.06" height="14.16" fill="#0000ff"/>
<rect x="410.05" y="483.06" width="0.51" height="9.44" fill="#5a5aff"/>
<rect x="410.52" y="483.06" width="1.06" height="9.44" fill="#0000ff"/>
<rect x="263.8" y="350.9" width="176.40" height="141.60" fill="none" stroke="#5a5a5a" stroke-width="1.3"/>
<line x1="261.00" y1="492.50" x2="263.80" y2="492.50" stroke="#5a5a5a" stroke-width="1.0"/>
<text x="258.80" y="495.40" font-size="8.8" text-anchor="end" fill="#1a1a1a" stroke="#1a1a1a" stroke-width="0.08">0</text>
<line x1="261.00" y1="468.90" x2="263.80" y2="468.90" stroke="#5a5a5a" stroke-width="1.0"/>
<text x="258.80" y="471.80" font-size="8.8" text-anchor="end" fill="#1a1a1a" stroke="#1a1a1a" stroke-width="0.08">5</text>
<line x1="261.00" y1="445.30" x2="263.80" y2="445.30" stroke="#5a5a5a" stroke-width="1.0"/>
<text x="258.80" y="448.20" font-size="8.8" text-anchor="end" fill="#1a1a1a" stroke="#1a1a1a" stroke-width="0.08">10</text>
<line x1="261.00" y1="421.70" x2="263.80" y2="421.70" stroke="#5a5a5a" stroke-width="1.0"/>
<text x="258.80" y="424.60" font-size="8.8" text-anchor="end" fill="#1a1a1a" stroke="#1a1a1a" stroke-width="0.08">15</text>
<line x1="261.00" y1="398.10" x2="263.80" y2="398.10" stroke="#5a5a5a" stroke-width="1.0"/>
<text x="258.80" y="401.00" font-size="8.8" text-anchor="end" fill="#1a1a1a" stroke="#1a1a1a" stroke-width="0.08">20</text>
<line x1="261.00" y1="374.50" x2="263.80" y2="374.50" stroke="#5a5a5a" stroke-width="1.0"/>
<text x="258.80" y="377.40" font-size="8.8" text-anchor="end" fill="#1a1a1a" stroke="#1a1a1a" stroke-width="0.08">25</text>
<line x1="261.00" y1="350.90" x2="263.80" y2="350.90" stroke="#5a5a5a" stroke-width="1.0"/>
<text x="258.80" y="353.80" font-size="8.8" text-anchor="end" fill="#1a1a1a" stroke="#1a1a1a" stroke-width="0.08">30</text>
<line x1="263.80" y1="492.50" x2="263.80" y2="495.10" stroke="#5a5a5a" stroke-width="1.0"/>
<text x="263.80" y="504.50" font-size="8.8" text-anchor="middle" fill="#1a1a1a" stroke="#1a1a1a" stroke-width="0.08">0</text>
<line x1="278.50" y1="492.50" x2="278.50" y2="494.10" stroke="#5a5a5a" stroke-width="1.0"/>
<line x1="293.20" y1="492.50" x2="293.20" y2="495.10" stroke="#5a5a5a" stroke-width="1.0"/>
<text x="293.20" y="504.50" font-size="8.8" text-anchor="middle" fill="#1a1a1a" stroke="#1a1a1a" stroke-width="0.08">60</text>
<line x1="307.90" y1="492.50" x2="307.90" y2="494.10" stroke="#5a5a5a" stroke-width="1.0"/>
<line x1="322.60" y1="492.50" x2="322.60" y2="495.10" stroke="#5a5a5a" stroke-width="1.0"/>
<text x="322.60" y="504.50" font-size="8.8" text-anchor="middle" fill="#1a1a1a" stroke="#1a1a1a" stroke-width="0.08">120</text>
<line x1="337.30" y1="492.50" x2="337.30" y2="494.10" stroke="#5a5a5a" stroke-width="1.0"/>
<line x1="352.00" y1="492.50" x2="352.00" y2="495.10" stroke="#5a5a5a" stroke-width="1.0"/>
<text x="352.00" y="504.50" font-size="8.8" text-anchor="middle" fill="#1a1a1a" stroke="#1a1a1a" stroke-width="0.08">180</text>
<line x1="366.70" y1="492.50" x2="366.70" y2="494.10" stroke="#5a5a5a" stroke-width="1.0"/>
<line x1="381.40" y1="492.50" x2="381.40" y2="495.10" stroke="#5a5a5a" stroke-width="1.0"/>
<text x="381.40" y="504.50" font-size="8.8" text-anchor="middle" fill="#1a1a1a" stroke="#1a1a1a" stroke-width="0.08">240</text>
<line x1="396.10" y1="492.50" x2="396.10" y2="494.10" stroke="#5a5a5a" stroke-width="1.0"/>
<line x1="410.80" y1="492.50" x2="410.80" y2="495.10" stroke="#5a5a5a" stroke-width="1.0"/>
<text x="410.80" y="504.50" font-size="8.8" text-anchor="middle" fill="#1a1a1a" stroke="#1a1a1a" stroke-width="0.08">300</text>
<line x1="425.50" y1="492.50" x2="425.50" y2="494.10" stroke="#5a5a5a" stroke-width="1.0"/>
<line x1="440.20" y1="492.50" x2="440.20" y2="495.10" stroke="#5a5a5a" stroke-width="1.0"/>
<text x="440.20" y="504.50" font-size="8.8" text-anchor="middle" fill="#1a1a1a" stroke="#1a1a1a" stroke-width="0.08">360</text>
<text x="352.00" y="515.10" font-size="9.3" text-anchor="middle" fill="#1a1a1a" stroke="#1a1a1a" stroke-width="0.2">Phase (degree)</text>
<text x="249.20" y="420.50" font-size="9.3" text-anchor="middle" fill="#1a1a1a" stroke="#1a1a1a" stroke-width="0.2" transform="rotate(-90 249.20 420.50)">Number</text>
<text x="271.10" y="373.60" font-size="13" text-anchor="start" fill="#111" stroke="#111" stroke-width="0.2" font-weight="bold">21kV</text>
<line x1="489.30" y1="6.90" x2="666.30" y2="6.90" stroke="#5a5a5a" stroke-width="1.3"/>
<line x1="489.30" y1="6.90" x2="489.30" y2="149.00" stroke="#5a5a5a" stroke-width="1.3"/>
<line x1="489.30" y1="149.00" x2="666.30" y2="149.00" stroke="#5a5a5a" stroke-width="1.3"/>
<line x1="666.30" y1="6.90" x2="666.30" y2="149.00" stroke="#ff3030" stroke-width="1.3"/>
<line x1="486.50" y1="139.09" x2="489.30" y2="139.09" stroke="#5a5a5a" stroke-width="1.0"/>
<text x="484.30" y="141.99" font-size="8.8" text-anchor="end" fill="#1a1a1a" stroke="#1a1a1a" stroke-width="0.08">0</text>
<line x1="486.50" y1="106.04" x2="489.30" y2="106.04" stroke="#5a5a5a" stroke-width="1.0"/>
<text x="484.30" y="108.94" font-size="8.8" text-anchor="end" fill="#1a1a1a" stroke="#1a1a1a" stroke-width="0.08">10</text>
<line x1="486.50" y1="72.99" x2="489.30" y2="72.99" stroke="#5a5a5a" stroke-width="1.0"/>
<text x="484.30" y="75.89" font-size="8.8" text-anchor="end" fill="#1a1a1a" stroke="#1a1a1a" stroke-width="0.08">20</text>
<line x1="486.50" y1="39.95" x2="489.30" y2="39.95" stroke="#5a5a5a" stroke-width="1.0"/>
<text x="484.30" y="42.85" font-size="8.8" text-anchor="end" fill="#1a1a1a" stroke="#1a1a1a" stroke-width="0.08">30</text>
<line x1="486.50" y1="6.90" x2="489.30" y2="6.90" stroke="#5a5a5a" stroke-width="1.0"/>
<text x="484.30" y="9.80" font-size="8.8" text-anchor="end" fill="#1a1a1a" stroke="#1a1a1a" stroke-width="0.08">40</text>
<line x1="487.60" y1="122.56" x2="489.30" y2="122.56" stroke="#5a5a5a" stroke-width="0.9"/>
<line x1="487.60" y1="89.52" x2="489.30" y2="89.52" stroke="#5a5a5a" stroke-width="0.9"/>
<line x1="487.60" y1="56.47" x2="489.30" y2="56.47" stroke="#5a5a5a" stroke-width="0.9"/>
<line x1="487.60" y1="23.42" x2="489.30" y2="23.42" stroke="#5a5a5a" stroke-width="0.9"/>
<line x1="666.30" y1="149.00" x2="669.10" y2="149.00" stroke="#ff3030" stroke-width="1.0"/>
<text x="670.90" y="151.90" font-size="8.8" text-anchor="start" fill="#ff2020" stroke="#ff2020" stroke-width="0.08">0</text>
<line x1="666.30" y1="113.47" x2="669.10" y2="113.47" stroke="#ff3030" stroke-width="1.0"/>
<text x="670.90" y="116.38" font-size="8.8" text-anchor="start" fill="#ff2020" stroke="#ff2020" stroke-width="0.08">100</text>
<line x1="666.30" y1="77.95" x2="669.10" y2="77.95" stroke="#ff3030" stroke-width="1.0"/>
<text x="670.90" y="80.85" font-size="8.8" text-anchor="start" fill="#ff2020" stroke="#ff2020" stroke-width="0.08">200</text>
<line x1="666.30" y1="42.43" x2="669.10" y2="42.43" stroke="#ff3030" stroke-width="1.0"/>
<text x="670.90" y="45.33" font-size="8.8" text-anchor="start" fill="#ff2020" stroke="#ff2020" stroke-width="0.08">300</text>
<line x1="666.30" y1="6.90" x2="669.10" y2="6.90" stroke="#ff3030" stroke-width="1.0"/>
<text x="670.90" y="9.80" font-size="8.8" text-anchor="start" fill="#ff2020" stroke="#ff2020" stroke-width="0.08">400</text>
<line x1="666.30" y1="131.24" x2="668.00" y2="131.24" stroke="#ff3030" stroke-width="0.9"/>
<line x1="666.30" y1="95.71" x2="668.00" y2="95.71" stroke="#ff3030" stroke-width="0.9"/>
<line x1="666.30" y1="60.19" x2="668.00" y2="60.19" stroke="#ff3030" stroke-width="0.9"/>
<line x1="666.30" y1="24.66" x2="668.00" y2="24.66" stroke="#ff3030" stroke-width="0.9"/>
<line x1="489.30" y1="149.00" x2="489.30" y2="151.60" stroke="#5a5a5a" stroke-width="1.0"/>
<text x="489.30" y="161.10" font-size="8.8" text-anchor="middle" fill="#1a1a1a" stroke="#1a1a1a" stroke-width="0.08">16</text>
<line x1="504.05" y1="149.00" x2="504.05" y2="150.70" stroke="#5a5a5a" stroke-width="0.9"/>
<line x1="518.80" y1="149.00" x2="518.80" y2="151.60" stroke="#5a5a5a" stroke-width="1.0"/>
<text x="518.80" y="161.10" font-size="8.8" text-anchor="middle" fill="#1a1a1a" stroke="#1a1a1a" stroke-width="0.08">17</text>
<line x1="533.55" y1="149.00" x2="533.55" y2="150.70" stroke="#5a5a5a" stroke-width="0.9"/>
<line x1="548.30" y1="149.00" x2="548.30" y2="151.60" stroke="#5a5a5a" stroke-width="1.0"/>
<text x="548.30" y="161.10" font-size="8.8" text-anchor="middle" fill="#1a1a1a" stroke="#1a1a1a" stroke-width="0.08">18</text>
<line x1="563.05" y1="149.00" x2="563.05" y2="150.70" stroke="#5a5a5a" stroke-width="0.9"/>
<line x1="577.80" y1="149.00" x2="577.80" y2="151.60" stroke="#5a5a5a" stroke-width="1.0"/>
<text x="577.80" y="161.10" font-size="8.8" text-anchor="middle" fill="#1a1a1a" stroke="#1a1a1a" stroke-width="0.08">19</text>
<line x1="592.55" y1="149.00" x2="592.55" y2="150.70" stroke="#5a5a5a" stroke-width="0.9"/>
<line x1="607.30" y1="149.00" x2="607.30" y2="151.60" stroke="#5a5a5a" stroke-width="1.0"/>
<text x="607.30" y="161.10" font-size="8.8" text-anchor="middle" fill="#1a1a1a" stroke="#1a1a1a" stroke-width="0.08">20</text>
<line x1="622.05" y1="149.00" x2="622.05" y2="150.70" stroke="#5a5a5a" stroke-width="0.9"/>
<line x1="636.80" y1="149.00" x2="636.80" y2="151.60" stroke="#5a5a5a" stroke-width="1.0"/>
<text x="636.80" y="161.10" font-size="8.8" text-anchor="middle" fill="#1a1a1a" stroke="#1a1a1a" stroke-width="0.08">21</text>
<line x1="651.55" y1="149.00" x2="651.55" y2="150.70" stroke="#5a5a5a" stroke-width="0.9"/>
<line x1="666.30" y1="149.00" x2="666.30" y2="151.60" stroke="#5a5a5a" stroke-width="1.0"/>
<text x="666.30" y="161.10" font-size="8.8" text-anchor="middle" fill="#1a1a1a" stroke="#1a1a1a" stroke-width="0.08">22</text>
<text x="577.80" y="171.00" font-size="9.3" text-anchor="middle" fill="#1a1a1a" stroke="#1a1a1a" stroke-width="0.2">Applied voltage (kV)</text>
<polyline points="518.80,112.76 577.80,83.63 636.80,37.10" fill="none" stroke="#ff0000" stroke-width="1.3"/>
<polyline points="518.80,139.09 577.80,102.73 636.80,30.03" fill="none" stroke="#000" stroke-width="1.3"/>
<rect x="517.10" y="111.06" width="3.4" height="3.4" rx="0.68" fill="#ff0000"/>
<rect x="576.10" y="81.93" width="3.4" height="3.4" rx="0.68" fill="#ff0000"/>
<rect x="635.10" y="35.40" width="3.4" height="3.4" rx="0.68" fill="#ff0000"/>
<rect x="517.10" y="137.39" width="3.4" height="3.4" rx="0.68" fill="#000"/>
<rect x="576.10" y="101.03" width="3.4" height="3.4" rx="0.68" fill="#000"/>
<rect x="635.10" y="28.33" width="3.4" height="3.4" rx="0.68" fill="#000"/>
<text x="474.20" y="77.95" font-size="9.3" text-anchor="middle" fill="#1a1a1a" stroke="#1a1a1a" stroke-width="0.2" transform="rotate(-90 474.20 77.95)">Total number of discharge</text>
<text x="693.80" y="77.95" font-size="9.3" text-anchor="middle" fill="#ff2020" stroke="#ff2020" stroke-width="0.2" transform="rotate(-90 693.80 77.95)">Total number of discharge</text>
<text x="445.60" y="10.80" font-size="13" text-anchor="start" fill="#111" stroke="#111" stroke-width="0.2" font-weight="bold">(d)</text>
<line x1="499.30" y1="19.80" x2="519.30" y2="19.80" stroke="#222" stroke-width="1.1"/>
<circle cx="509.3" cy="19.8" r="1.7" fill="#000"/>
<line x1="499.30" y1="32.10" x2="519.30" y2="32.10" stroke="#ff1010" stroke-width="1.1"/>
<circle cx="509.3" cy="32.1" r="1.7" fill="#ff0000"/>
<text x="521.50" y="22.70" font-size="8.75" text-anchor="start" fill="#1a1a1a" stroke="#1a1a1a" stroke-width="0.12">positive half-cycle</text>
<text x="521.50" y="35.10" font-size="8.75" text-anchor="start" fill="#1a1a1a" stroke="#1a1a1a" stroke-width="0.12">negative half-cycle</text>
<line x1="496.20" y1="180.90" x2="672.80" y2="180.90" stroke="#5a5a5a" stroke-width="1.3"/>
<line x1="496.20" y1="180.90" x2="496.20" y2="322.90" stroke="#5a5a5a" stroke-width="1.3"/>
<line x1="496.20" y1="322.90" x2="672.80" y2="322.90" stroke="#5a5a5a" stroke-width="1.3"/>
<line x1="672.80" y1="180.90" x2="672.80" y2="322.90" stroke="#ff3030" stroke-width="1.3"/>
<line x1="493.40" y1="322.90" x2="496.20" y2="322.90" stroke="#5a5a5a" stroke-width="1.0"/>
<text x="491.20" y="325.80" font-size="8.8" text-anchor="end" fill="#1a1a1a" stroke="#1a1a1a" stroke-width="0.08">0</text>
<line x1="493.40" y1="294.50" x2="496.20" y2="294.50" stroke="#5a5a5a" stroke-width="1.0"/>
<text x="491.20" y="297.40" font-size="8.8" text-anchor="end" fill="#1a1a1a" stroke="#1a1a1a" stroke-width="0.08">4000</text>
<line x1="493.40" y1="266.10" x2="496.20" y2="266.10" stroke="#5a5a5a" stroke-width="1.0"/>
<text x="491.20" y="269.00" font-size="8.8" text-anchor="end" fill="#1a1a1a" stroke="#1a1a1a" stroke-width="0.08">8000</text>
<line x1="493.40" y1="237.70" x2="496.20" y2="237.70" stroke="#5a5a5a" stroke-width="1.0"/>
<text x="491.20" y="240.60" font-size="8.8" text-anchor="end" fill="#1a1a1a" stroke="#1a1a1a" stroke-width="0.08">12000</text>
<line x1="493.40" y1="209.30" x2="496.20" y2="209.30" stroke="#5a5a5a" stroke-width="1.0"/>
<text x="491.20" y="212.20" font-size="8.8" text-anchor="end" fill="#1a1a1a" stroke="#1a1a1a" stroke-width="0.08">16000</text>
<line x1="493.40" y1="180.90" x2="496.20" y2="180.90" stroke="#5a5a5a" stroke-width="1.0"/>
<text x="491.20" y="183.80" font-size="8.8" text-anchor="end" fill="#1a1a1a" stroke="#1a1a1a" stroke-width="0.08">20000</text>
<line x1="494.50" y1="308.70" x2="496.20" y2="308.70" stroke="#5a5a5a" stroke-width="0.9"/>
<line x1="494.50" y1="280.30" x2="496.20" y2="280.30" stroke="#5a5a5a" stroke-width="0.9"/>
<line x1="494.50" y1="251.90" x2="496.20" y2="251.90" stroke="#5a5a5a" stroke-width="0.9"/>
<line x1="494.50" y1="223.50" x2="496.20" y2="223.50" stroke="#5a5a5a" stroke-width="0.9"/>
<line x1="494.50" y1="195.10" x2="496.20" y2="195.10" stroke="#5a5a5a" stroke-width="0.9"/>
<line x1="672.80" y1="322.90" x2="675.60" y2="322.90" stroke="#ff3030" stroke-width="1.0"/>
<text x="677.40" y="325.80" font-size="8.8" text-anchor="start" fill="#ff2020" stroke="#ff2020" stroke-width="0.08">0</text>
<line x1="672.80" y1="294.50" x2="675.60" y2="294.50" stroke="#ff3030" stroke-width="1.0"/>
<text x="677.40" y="297.40" font-size="8.8" text-anchor="start" fill="#ff2020" stroke="#ff2020" stroke-width="0.08">10</text>
<line x1="672.80" y1="266.10" x2="675.60" y2="266.10" stroke="#ff3030" stroke-width="1.0"/>
<text x="677.40" y="269.00" font-size="8.8" text-anchor="start" fill="#ff2020" stroke="#ff2020" stroke-width="0.08">20</text>
<line x1="672.80" y1="237.70" x2="675.60" y2="237.70" stroke="#ff3030" stroke-width="1.0"/>
<text x="677.40" y="240.60" font-size="8.8" text-anchor="start" fill="#ff2020" stroke="#ff2020" stroke-width="0.08">30</text>
<line x1="672.80" y1="209.30" x2="675.60" y2="209.30" stroke="#ff3030" stroke-width="1.0"/>
<text x="677.40" y="212.20" font-size="8.8" text-anchor="start" fill="#ff2020" stroke="#ff2020" stroke-width="0.08">40</text>
<line x1="672.80" y1="180.90" x2="675.60" y2="180.90" stroke="#ff3030" stroke-width="1.0"/>
<text x="677.40" y="183.80" font-size="8.8" text-anchor="start" fill="#ff2020" stroke="#ff2020" stroke-width="0.08">50</text>
<line x1="672.80" y1="308.70" x2="674.50" y2="308.70" stroke="#ff3030" stroke-width="0.9"/>
<line x1="672.80" y1="280.30" x2="674.50" y2="280.30" stroke="#ff3030" stroke-width="0.9"/>
<line x1="672.80" y1="251.90" x2="674.50" y2="251.90" stroke="#ff3030" stroke-width="0.9"/>
<line x1="672.80" y1="223.50" x2="674.50" y2="223.50" stroke="#ff3030" stroke-width="0.9"/>
<line x1="672.80" y1="195.10" x2="674.50" y2="195.10" stroke="#ff3030" stroke-width="0.9"/>
<line x1="496.20" y1="322.90" x2="496.20" y2="325.50" stroke="#5a5a5a" stroke-width="1.0"/>
<text x="496.20" y="334.20" font-size="8.8" text-anchor="middle" fill="#1a1a1a" stroke="#1a1a1a" stroke-width="0.08">16</text>
<line x1="510.92" y1="322.90" x2="510.92" y2="324.60" stroke="#5a5a5a" stroke-width="0.9"/>
<line x1="525.63" y1="322.90" x2="525.63" y2="325.50" stroke="#5a5a5a" stroke-width="1.0"/>
<text x="525.63" y="334.20" font-size="8.8" text-anchor="middle" fill="#1a1a1a" stroke="#1a1a1a" stroke-width="0.08">17</text>
<line x1="540.35" y1="322.90" x2="540.35" y2="324.60" stroke="#5a5a5a" stroke-width="0.9"/>
<line x1="555.07" y1="322.90" x2="555.07" y2="325.50" stroke="#5a5a5a" stroke-width="1.0"/>
<text x="555.07" y="334.20" font-size="8.8" text-anchor="middle" fill="#1a1a1a" stroke="#1a1a1a" stroke-width="0.08">18</text>
<line x1="569.78" y1="322.90" x2="569.78" y2="324.60" stroke="#5a5a5a" stroke-width="0.9"/>
<line x1="584.50" y1="322.90" x2="584.50" y2="325.50" stroke="#5a5a5a" stroke-width="1.0"/>
<text x="584.50" y="334.20" font-size="8.8" text-anchor="middle" fill="#1a1a1a" stroke="#1a1a1a" stroke-width="0.08">19</text>
<line x1="599.22" y1="322.90" x2="599.22" y2="324.60" stroke="#5a5a5a" stroke-width="0.9"/>
<line x1="613.93" y1="322.90" x2="613.93" y2="325.50" stroke="#5a5a5a" stroke-width="1.0"/>
<text x="613.93" y="334.20" font-size="8.8" text-anchor="middle" fill="#1a1a1a" stroke="#1a1a1a" stroke-width="0.08">20</text>
<line x1="628.65" y1="322.90" x2="628.65" y2="324.60" stroke="#5a5a5a" stroke-width="0.9"/>
<line x1="643.37" y1="322.90" x2="643.37" y2="325.50" stroke="#5a5a5a" stroke-width="1.0"/>
<text x="643.37" y="334.20" font-size="8.8" text-anchor="middle" fill="#1a1a1a" stroke="#1a1a1a" stroke-width="0.08">21</text>
<line x1="658.08" y1="322.90" x2="658.08" y2="324.60" stroke="#5a5a5a" stroke-width="0.9"/>
<line x1="672.80" y1="322.90" x2="672.80" y2="325.50" stroke="#5a5a5a" stroke-width="1.0"/>
<text x="672.80" y="334.20" font-size="8.8" text-anchor="middle" fill="#1a1a1a" stroke="#1a1a1a" stroke-width="0.08">22</text>
<text x="584.50" y="344.80" font-size="9.3" text-anchor="middle" fill="#1a1a1a" stroke="#1a1a1a" stroke-width="0.2">Applied voltage (kV)</text>
<polyline points="525.63,279.45 584.50,253.60 643.37,207.88" fill="none" stroke="#ff0000" stroke-width="1.3"/>
<polyline points="525.63,311.75 584.50,289.53 643.37,222.79" fill="none" stroke="#000" stroke-width="1.3"/>
<rect x="523.93" y="277.75" width="3.4" height="3.4" rx="0.68" fill="#ff0000"/>
<rect x="582.80" y="251.90" width="3.4" height="3.4" rx="0.68" fill="#ff0000"/>
<rect x="641.67" y="206.18" width="3.4" height="3.4" rx="0.68" fill="#ff0000"/>
<rect x="523.93" y="310.05" width="3.4" height="3.4" rx="0.68" fill="#000"/>
<rect x="582.80" y="287.83" width="3.4" height="3.4" rx="0.68" fill="#000"/>
<rect x="641.67" y="221.09" width="3.4" height="3.4" rx="0.68" fill="#000"/>
<text x="467.50" y="251.90" font-size="9.3" text-anchor="middle" fill="#1a1a1a" stroke="#1a1a1a" stroke-width="0.2" transform="rotate(-90 467.50 251.90)">Accumulation discharge magnitude (pC)</text>
<text x="697.00" y="251.90" font-size="9.3" text-anchor="middle" fill="#ff2020" stroke="#ff2020" stroke-width="0.2" transform="rotate(-90 697.00 251.90)">Mean discharge magnitude (pC)</text>
<text x="444.80" y="181.00" font-size="13" text-anchor="start" fill="#111" stroke="#111" stroke-width="0.2" font-weight="bold">(e)</text>
<line x1="497.00" y1="355.60" x2="668.20" y2="355.60" stroke="#5a5a5a" stroke-width="1.05"/>
<line x1="497.00" y1="355.60" x2="497.00" y2="493.30" stroke="#5a5a5a" stroke-width="1.05"/>
<line x1="497.00" y1="493.30" x2="668.20" y2="493.30" stroke="#5a5a5a" stroke-width="1.05"/>
<line x1="668.20" y1="355.60" x2="668.20" y2="493.30" stroke="#ff3030" stroke-width="1.05"/>
<line x1="494.20" y1="493.30" x2="497.00" y2="493.30" stroke="#5a5a5a" stroke-width="1.0"/>
<text x="492.00" y="496.20" font-size="8.8" text-anchor="end" fill="#1a1a1a" stroke="#1a1a1a" stroke-width="0.08">6</text>
<line x1="494.20" y1="458.88" x2="497.00" y2="458.88" stroke="#5a5a5a" stroke-width="1.0"/>
<text x="490.00" y="458.88" font-size="8.8" text-anchor="middle" fill="#1a1a1a" stroke="#1a1a1a" stroke-width="0.08" transform="rotate(-90 490.00 458.88)" dominant-baseline="central">8</text>
<line x1="494.20" y1="424.45" x2="497.00" y2="424.45" stroke="#5a5a5a" stroke-width="1.0"/>
<text x="492.00" y="427.35" font-size="8.8" text-anchor="end" fill="#1a1a1a" stroke="#1a1a1a" stroke-width="0.08">10</text>
<line x1="494.20" y1="390.03" x2="497.00" y2="390.03" stroke="#5a5a5a" stroke-width="1.0"/>
<text x="492.00" y="392.93" font-size="8.8" text-anchor="end" fill="#1a1a1a" stroke="#1a1a1a" stroke-width="0.08">12</text>
<line x1="494.20" y1="355.60" x2="497.00" y2="355.60" stroke="#5a5a5a" stroke-width="1.0"/>
<text x="492.00" y="358.50" font-size="8.8" text-anchor="end" fill="#1a1a1a" stroke="#1a1a1a" stroke-width="0.08">14</text>
<line x1="495.30" y1="476.09" x2="497.00" y2="476.09" stroke="#5a5a5a" stroke-width="0.9"/>
<line x1="495.30" y1="441.66" x2="497.00" y2="441.66" stroke="#5a5a5a" stroke-width="0.9"/>
<line x1="495.30" y1="407.24" x2="497.00" y2="407.24" stroke="#5a5a5a" stroke-width="0.9"/>
<line x1="495.30" y1="372.81" x2="497.00" y2="372.81" stroke="#5a5a5a" stroke-width="0.9"/>
<line x1="668.20" y1="493.30" x2="671.00" y2="493.30" stroke="#ff3030" stroke-width="1.0"/>
<text x="672.80" y="496.20" font-size="8.8" text-anchor="start" fill="#ff2020" stroke="#ff2020" stroke-width="0.08">0</text>
<line x1="668.20" y1="465.76" x2="671.00" y2="465.76" stroke="#ff3030" stroke-width="1.0"/>
<text x="672.80" y="468.66" font-size="8.8" text-anchor="start" fill="#ff2020" stroke="#ff2020" stroke-width="0.08">1</text>
<line x1="668.20" y1="438.22" x2="671.00" y2="438.22" stroke="#ff3030" stroke-width="1.0"/>
<text x="672.80" y="441.12" font-size="8.8" text-anchor="start" fill="#ff2020" stroke="#ff2020" stroke-width="0.08">2</text>
<line x1="668.20" y1="410.68" x2="671.00" y2="410.68" stroke="#ff3030" stroke-width="1.0"/>
<text x="672.80" y="413.58" font-size="8.8" text-anchor="start" fill="#ff2020" stroke="#ff2020" stroke-width="0.08">3</text>
<line x1="668.20" y1="383.14" x2="671.00" y2="383.14" stroke="#ff3030" stroke-width="1.0"/>
<text x="672.80" y="386.04" font-size="8.8" text-anchor="start" fill="#ff2020" stroke="#ff2020" stroke-width="0.08">4</text>
<line x1="668.20" y1="355.60" x2="671.00" y2="355.60" stroke="#ff3030" stroke-width="1.0"/>
<text x="672.80" y="358.50" font-size="8.8" text-anchor="start" fill="#ff2020" stroke="#ff2020" stroke-width="0.08">5</text>
<line x1="668.20" y1="479.53" x2="669.90" y2="479.53" stroke="#ff3030" stroke-width="0.9"/>
<line x1="668.20" y1="451.99" x2="669.90" y2="451.99" stroke="#ff3030" stroke-width="0.9"/>
<line x1="668.20" y1="424.45" x2="669.90" y2="424.45" stroke="#ff3030" stroke-width="0.9"/>
<line x1="668.20" y1="396.91" x2="669.90" y2="396.91" stroke="#ff3030" stroke-width="0.9"/>
<line x1="668.20" y1="369.37" x2="669.90" y2="369.37" stroke="#ff3030" stroke-width="0.9"/>
<line x1="497.00" y1="493.30" x2="497.00" y2="495.90" stroke="#5a5a5a" stroke-width="1.0"/>
<text x="497.00" y="504.60" font-size="8.8" text-anchor="middle" fill="#1a1a1a" stroke="#1a1a1a" stroke-width="0.08">16</text>
<line x1="511.27" y1="493.30" x2="511.27" y2="495.00" stroke="#5a5a5a" stroke-width="0.9"/>
<line x1="525.53" y1="493.30" x2="525.53" y2="495.90" stroke="#5a5a5a" stroke-width="1.0"/>
<text x="525.53" y="504.60" font-size="8.8" text-anchor="middle" fill="#1a1a1a" stroke="#1a1a1a" stroke-width="0.08">17</text>
<line x1="539.80" y1="493.30" x2="539.80" y2="495.00" stroke="#5a5a5a" stroke-width="0.9"/>
<line x1="554.07" y1="493.30" x2="554.07" y2="495.90" stroke="#5a5a5a" stroke-width="1.0"/>
<text x="554.07" y="504.60" font-size="8.8" text-anchor="middle" fill="#1a1a1a" stroke="#1a1a1a" stroke-width="0.08">18</text>
<line x1="568.33" y1="493.30" x2="568.33" y2="495.00" stroke="#5a5a5a" stroke-width="0.9"/>
<line x1="582.60" y1="493.30" x2="582.60" y2="495.90" stroke="#5a5a5a" stroke-width="1.0"/>
<text x="582.60" y="504.60" font-size="8.8" text-anchor="middle" fill="#1a1a1a" stroke="#1a1a1a" stroke-width="0.08">19</text>
<line x1="596.87" y1="493.30" x2="596.87" y2="495.00" stroke="#5a5a5a" stroke-width="0.9"/>
<line x1="611.13" y1="493.30" x2="611.13" y2="495.90" stroke="#5a5a5a" stroke-width="1.0"/>
<text x="611.13" y="504.60" font-size="8.8" text-anchor="middle" fill="#1a1a1a" stroke="#1a1a1a" stroke-width="0.08">20</text>
<line x1="625.40" y1="493.30" x2="625.40" y2="495.00" stroke="#5a5a5a" stroke-width="0.9"/>
<line x1="639.67" y1="493.30" x2="639.67" y2="495.90" stroke="#5a5a5a" stroke-width="1.0"/>
<text x="639.67" y="504.60" font-size="8.8" text-anchor="middle" fill="#1a1a1a" stroke="#1a1a1a" stroke-width="0.08">21</text>
<line x1="653.93" y1="493.30" x2="653.93" y2="495.00" stroke="#5a5a5a" stroke-width="0.9"/>
<line x1="668.20" y1="493.30" x2="668.20" y2="495.90" stroke="#5a5a5a" stroke-width="1.0"/>
<text x="668.20" y="504.60" font-size="8.8" text-anchor="middle" fill="#1a1a1a" stroke="#1a1a1a" stroke-width="0.08">22</text>
<text x="582.60" y="514.50" font-size="9.3" text-anchor="middle" fill="#1a1a1a" stroke="#1a1a1a" stroke-width="0.2">Applied voltage (kV)</text>
<polyline points="525.53,439.60 582.60,429.96 639.67,404.62" fill="none" stroke="#ff0000" stroke-width="1.15"/>
<polyline points="525.53,427.89 582.60,413.26 639.67,379.70" fill="none" stroke="#000" stroke-width="1.15"/>
<rect x="524.03" y="438.10" width="3.0" height="3.0" rx="0.60" fill="#ff0000"/>
<rect x="581.10" y="428.46" width="3.0" height="3.0" rx="0.60" fill="#ff0000"/>
<rect x="638.17" y="403.12" width="3.0" height="3.0" rx="0.60" fill="#ff0000"/>
<rect x="524.03" y="426.39" width="3.0" height="3.0" rx="0.60" fill="#000"/>
<rect x="581.10" y="411.76" width="3.0" height="3.0" rx="0.60" fill="#000"/>
<rect x="638.17" y="378.20" width="3.0" height="3.0" rx="0.60" fill="#000"/>
<text x="480.50" y="428.85" font-size="9.3" text-anchor="middle" fill="#1a1a1a" stroke="#1a1a1a" stroke-width="0.2" transform="rotate(-90 480.50 428.85)">Diameter of solid precipitates (mm)</text>
<text x="686.50" y="424.45" font-size="9.3" text-anchor="middle" fill="#ff2020" stroke="#ff2020" stroke-width="0.2" transform="rotate(-90 686.50 424.45)">Percentage of electrode coverage (%)</text>
<text x="445.60" y="358.10" font-size="13" text-anchor="start" fill="#111" stroke="#111" stroke-width="0.2" font-weight="bold">(f)</text>
</svg>
<div class="disk" style="left:52.00px;top:80.40px;width:60.60px;height:60.60px;background:radial-gradient(circle at 45% 54%, #121216 0px, #1a1a20 2.4px, #4a443c 3.6px, #7a6e5a 5px, #ac9f84 7px, #bcb094 9.5px, #a09480 11.5px, #948a78 12.5px, rgba(150,144,130,0) 14.5px),radial-gradient(circle closest-side at 50% 50%, rgba(0,0,0,0) 91%, #8a7440 95.5%, #6a5830 99%, rgba(106,88,48,0.4) 100%),conic-gradient(from 0deg at 45% 54%, #8e887c 0deg, #a09888 28deg, #d4cebe 36deg, #e2dccc 40deg, #c0b8a6 46deg, #aaa290 60deg, #b0a690 90deg, #a89c84 120deg, #8e8c88 150deg, #96908a 180deg, #b4ac98 210deg, #e0dccf 221deg, #f2efe4 225deg, #c4bcaa 232deg, #a29a88 245deg, #8a8c90 265deg, #7e8088 300deg, #888278 330deg, #8e887c 360deg);filter:blur(0.45px);"></div>
<div class="disk" style="left:51.80px;top:251.10px;width:62.00px;height:62.00px;background:radial-gradient(circle at 44% 52%, #0e0e12 0px, #16161a 3.3px, #2e2e2a 4.0px, #bcb8a0 5.0px, #d6d2b6 6.6px, #d2ceb2 8.0px, #b8b49a 9.2px, #a8a086 10.4px, #6e5a3c 11.4px, #8a7c5c 12.2px, rgba(140,130,100,0) 13.4px),radial-gradient(circle closest-side at 50% 50%, rgba(0,0,0,0) 91%, #a08c60 95%, #6e5834 99%, rgba(90,68,36,0.3) 100%),conic-gradient(from 0deg at 44% 52%, #7c7862 0deg, #908a70 30deg, #c8c2a6 50deg, #e6e2ca 60deg, #c4bca0 70deg, #a09a7c 100deg, #827e64 130deg, #8a8468 160deg, #908a70 190deg, #b2ac8e 215deg, #e2dcc4 236deg, #c2ba9e 250deg, #9c9678 280deg, #7e7a62 310deg, #7a7660 340deg, #7c7862 360deg);filter:blur(0.45px);"></div>
<div class="disk" style="left:52.30px;top:420.60px;width:63.60px;height:63.60px;background:radial-gradient(circle at 50% 52%, #0a0a0c 0px, #101012 3.7px, #3a3222 4.6px, #8c7a56 5.6px, #9a8862 7.4px, #8e7c58 9.4px, #6e5e40 10.8px, #746850 11.6px, rgba(120,108,80,0) 13px),radial-gradient(circle closest-side at 50% 50%, rgba(0,0,0,0) 90%, #7a6838 94%, #4a3c1c 99%, rgba(74,60,28,0.3) 100%),conic-gradient(from 0deg at 50% 52%, #8e8262 0deg, #887c5c 15deg, #a49878 35deg, #8a7e5e 55deg, #7c7052 90deg, #7a6e50 140deg, #726648 175deg, #7e7254 200deg, #b0a688 214deg, #c8bfa2 219deg, #968a6a 228deg, #7a6e50 260deg, #786c4e 300deg, #90846a 335deg, #b2a888 347deg, #a09474 355deg, #8e8262 360deg);filter:blur(0.45px);"></div>
<svg class="ov" width="700" height="518" viewBox="0 0 700 518"><defs><filter id="bl" x="-10%" y="-10%" width="120%" height="120%"><feGaussianBlur stdDeviation="0.4"/></filter></defs><g filter="url(#bl)"><path d="M102.51,128.90 A27.2,27.2 0 0 1 67.89,133.77" fill="none" stroke="#46505e" stroke-width="2.2" stroke-linecap="round" opacity="0.7"/><path d="M98.02,133.14 A27.4,27.4 0 0 1 77.54,137.68" fill="none" stroke="#2e3644" stroke-width="1.4" stroke-linecap="round" opacity="0.55"/><path d="M111.79,113.28 A29.6,29.6 0 0 1 97.10,136.33" fill="none" stroke="#d4b868" stroke-width="1.4" stroke-linecap="round" opacity="0.8"/><path d="M59.63,129.73 A29.6,29.6 0 0 1 56.67,95.90" fill="none" stroke="#b09858" stroke-width="1.0" stroke-linecap="round" opacity="0.5"/><path d="M109.99,294.78 A30.0,30.0 0 0 1 54.61,292.36" fill="none" stroke="#4a3a20" stroke-width="2.0" stroke-linecap="round" opacity="0.8"/><path d="M101.18,304.01 A28.6,28.6 0 0 1 64.42,304.01" fill="none" stroke="#c8b078" stroke-width="1.0" stroke-linecap="round" opacity="0.5"/><path d="M99.50,479.07 A30.8,30.8 0 0 1 55.16,441.87" fill="none" stroke="#3e321a" stroke-width="1.8" stroke-linecap="round" opacity="0.7"/><path d="M94.02,479.65 A29.0,29.0 0 0 1 61.88,471.04" fill="none" stroke="#d0c090" stroke-width="0.9" stroke-linecap="round" opacity="0.45"/><path d="M110.95,436.90 A31.0,31.0 0 0 1 110.95,467.90" fill="none" stroke="#c0a868" stroke-width="1.2" stroke-linecap="round" opacity="0.6"/></g></svg>
</body></html>
